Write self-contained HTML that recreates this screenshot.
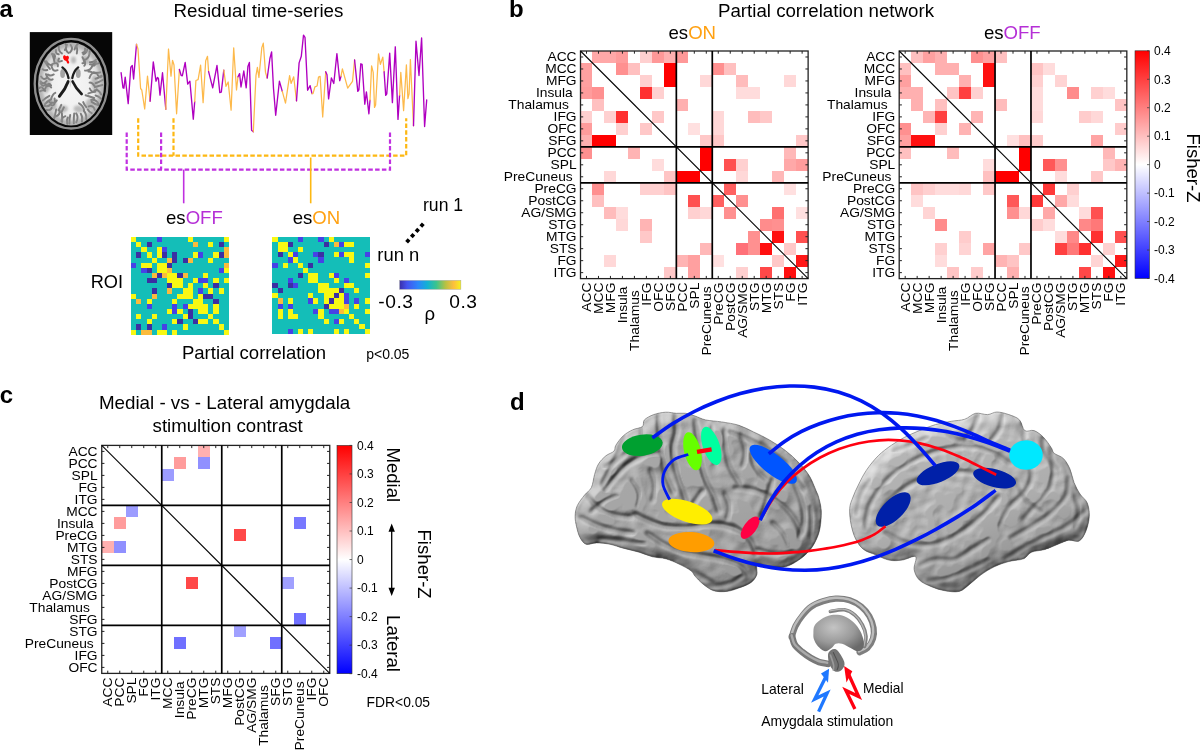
<!DOCTYPE html>
<html lang="en"><head><meta charset="utf-8"><title>Figure</title>
<style>html,body{margin:0;padding:0;background:#fff;}body{width:1200px;height:752px;overflow:hidden;font-family:"Liberation Sans", Arial, sans-serif;}svg{display:block;font-family:"Liberation Sans", Arial, sans-serif;}text{white-space:pre;}</style></head><body>
<svg width="1200" height="752" viewBox="0 0 1200 752">
<defs>
<linearGradient id="parula" x1="0" x2="1" y1="0" y2="0">
<stop offset="0" stop-color="#3a2fa8"/><stop offset="0.12" stop-color="#4453ee"/><stop offset="0.3" stop-color="#2c86fb"/><stop offset="0.45" stop-color="#12b1d4"/><stop offset="0.6" stop-color="#3bc48d"/><stop offset="0.75" stop-color="#b8c143"/><stop offset="0.88" stop-color="#fdbe3d"/><stop offset="1" stop-color="#f6f31b"/>
</linearGradient>
<linearGradient id="bwr" x1="0" x2="0" y1="0" y2="1">
<stop offset="0" stop-color="#ff0000"/><stop offset="0.5" stop-color="#ffffff"/><stop offset="1" stop-color="#0000ff"/>
</linearGradient>
</defs>

<rect width="1200" height="752" fill="#fff"/>
<g id="panel-a">
<text x="-0.5" y="17.3" font-size="24" text-anchor="start" font-weight="bold" fill="#000" >a</text>
<text x="258.5" y="16.5" font-size="18.75" text-anchor="middle" font-weight="normal" fill="#000" >Residual time-series</text>
<g id="mri">
<defs><filter id="mb1" x="-20%" y="-20%" width="140%" height="140%"><feGaussianBlur stdDeviation="0.6"/></filter><filter id="mb2" x="-20%" y="-20%" width="140%" height="140%"><feGaussianBlur stdDeviation="1.3"/></filter>
<radialGradient id="mg" cx="0.5" cy="0.5" r="0.5"><stop offset="0" stop-color="#f6f6f6"/><stop offset="0.7" stop-color="#efefef"/><stop offset="0.92" stop-color="#d6d6d6"/><stop offset="1" stop-color="#b0b0b0"/></radialGradient>
<clipPath id="mclip"><rect x="29.8" y="32.1" width="82.4" height="102.9"/></clipPath></defs>
<rect x="29.8" y="32.1" width="82.4" height="102.9" fill="#060606"/>
<g clip-path="url(#mclip)">
<ellipse cx="71.1" cy="83.7" rx="36.4" ry="44.8" fill="none" stroke="#8e8e8e" stroke-width="2.3" filter="url(#mb1)"/>
<ellipse cx="71.1" cy="84.0" rx="33" ry="41.4" fill="url(#mg)" filter="url(#mb1)"/>
<path d="M95.5,83.2 Q99.1,82.1 102.6,80.0 M94.9,87.2 Q98.7,85.7 102.4,85.0 M94.6,90.3 Q98.5,88.8 101.1,94.4 M95.6,95.5 Q98.6,96.1 101.0,98.7 M91.2,99.9 Q96.2,99.2 98.7,104.1 M91.5,101.8 Q94.4,104.2 98.2,105.0 M88.7,106.4 Q93.8,105.0 94.7,109.7 M87.8,109.4 Q89.2,111.9 91.6,113.2 M83.7,110.7 Q86.7,113.6 86.2,119.0 M80.8,113.7 Q83.0,116.9 81.9,121.6 M76.2,113.4 Q78.9,117.1 76.3,122.3 M74.2,113.4 Q73.6,118.4 73.8,123.3 M70.2,115.0 Q69.2,119.2 69.4,123.5 M67.7,117.4 Q66.1,120.4 67.2,123.8 M65.4,116.2 Q61.1,118.0 61.5,121.5 M61.9,113.3 Q62.2,117.6 62.2,121.8 M59.7,110.5 Q60.1,115.1 55.5,116.5 M56.2,109.4 Q55.4,113.9 54.2,117.9 M51.7,107.8 Q50.6,110.6 46.9,110.0 M51.3,103.1 Q49.5,107.3 44.3,105.8 M50.1,100.0 Q47.2,101.4 45.0,104.2 M49.4,95.8 Q45.9,97.5 42.9,100.4 M45.2,90.8 Q42.5,89.4 40.3,91.3 M44.2,89.7 Q41.5,86.0 39.4,88.0 M45.8,84.0 Q43.3,87.8 40.5,83.2 M46.6,81.0 Q43.5,85.3 40.5,81.4 M47.3,77.3 Q43.7,81.2 41.1,76.6 M47.3,70.0 Q44.6,70.9 42.7,69.2 M49.9,68.9 Q47.0,65.4 44.6,61.0 M52.0,65.3 Q48.2,65.0 46.3,61.3 M54.4,61.4 Q53.4,57.5 52.2,53.8 M54.6,58.6 Q56.2,53.7 51.9,54.1 M58.7,54.3 Q55.2,53.8 56.0,49.9 M61.9,53.4 Q58.4,51.2 58.8,46.8 M64.8,49.9 Q67.6,46.5 65.5,44.1 M68.5,52.9 Q64.2,49.6 66.9,44.7 M69.9,52.5 Q73.7,48.9 70.7,45.0 M74.5,49.5 Q75.0,46.5 77.8,44.0 M76.8,53.6 Q77.7,49.9 76.6,45.8 M82.5,52.8 Q85.8,52.0 85.0,48.5 M83.3,54.4 Q87.0,52.9 87.4,48.9 M86.0,59.3 Q89.7,57.1 89.7,51.2 M89.8,62.3 Q93.8,62.6 95.8,59.8 M89.9,64.4 Q94.2,65.2 96.1,61.5 M94.0,65.7 Q95.8,63.1 99.0,63.2 M93.6,72.2 Q97.2,73.4 100.1,72.3 M97.6,74.9 Q100.2,78.7 101.7,76.2 M95.5,78.8 Q98.6,78.1 101.4,75.7 M89.6,82.6 Q92.1,82.3 94.6,86.1 M89.8,88.5 Q92.0,94.4 96.8,89.4 M88.4,93.4 Q91.9,92.2 95.1,91.9 M85.6,95.2 Q89.9,96.6 94.2,98.0 M83.2,102.1 Q84.3,105.1 86.3,107.2 M79.0,103.3 Q83.3,105.5 84.1,110.4 M63.9,107.3 Q62.7,109.7 61.5,112.1 M61.3,104.8 Q60.1,107.7 58.5,110.2 M56.8,100.3 Q55.2,104.0 49.8,102.3 M54.6,98.4 Q56.0,105.6 51.9,105.4 M55.3,92.8 Q52.2,94.2 50.9,99.8 M51.2,87.5 Q49.3,84.8 47.6,86.2 M51.1,85.5 Q48.0,80.8 45.1,89.0 M52.7,79.3 Q48.6,81.4 45.9,74.1 M53.8,74.4 Q50.3,76.5 48.0,74.5 M57.6,70.2 Q52.0,72.6 51.3,64.7 M57.8,66.3 Q58.6,61.0 51.6,64.5 M62.0,60.9 Q56.6,63.1 59.0,58.5 M82.4,63.2 Q86.0,63.6 82.5,57.2 M84.3,65.8 Q86.0,64.3 84.4,59.6 M85.0,70.6 Q90.5,71.1 92.7,65.1 M88.6,71.6 Q90.4,71.5 92.7,72.7 M89.5,78.0 Q91.4,71.2 96.0,73.5" stroke="#6c6c6c" stroke-width="1.95" stroke-linecap="round" fill="none" opacity="0.85" filter="url(#mb1)"/>
<ellipse cx="47" cy="84" rx="3.5" ry="9" transform="rotate(6 47 84)" fill="#868686" opacity="0.5" filter="url(#mb2)"/>
<ellipse cx="95" cy="84" rx="3.5" ry="9" transform="rotate(-6 95 84)" fill="#868686" opacity="0.5" filter="url(#mb2)"/>
<ellipse cx="52" cy="104" rx="4.5" ry="6.5" transform="rotate(-25 52 104)" fill="#868686" opacity="0.5" filter="url(#mb2)"/>
<ellipse cx="90" cy="104" rx="4.5" ry="6.5" transform="rotate(25 90 104)" fill="#868686" opacity="0.5" filter="url(#mb2)"/>
<ellipse cx="63" cy="109" rx="5" ry="3.5" transform="rotate(-10 63 109)" fill="#868686" opacity="0.5" filter="url(#mb2)"/>
<ellipse cx="78.5" cy="109" rx="5" ry="3.5" transform="rotate(10 78.5 109)" fill="#868686" opacity="0.5" filter="url(#mb2)"/>
<ellipse cx="86" cy="60" rx="3" ry="5" transform="rotate(-30 86 60)" fill="#868686" opacity="0.5" filter="url(#mb2)"/>
<ellipse cx="56" cy="62" rx="3" ry="5" transform="rotate(30 56 62)" fill="#868686" opacity="0.5" filter="url(#mb2)"/>
<ellipse cx="73.5" cy="60" rx="2.6" ry="3.6" transform="rotate(0 73.5 60)" fill="#868686" opacity="0.5" filter="url(#mb2)"/>
<ellipse cx="71.1" cy="84.0" rx="30.6" ry="38.6" fill="none" stroke="#9c9c9c" stroke-width="3.2" opacity="0.55" filter="url(#mb2)"/>
<ellipse cx="62.6" cy="73.5" rx="2.4" ry="4.6" fill="#8a8a8a" opacity="0.75" filter="url(#mb1)"/>
<ellipse cx="78.3" cy="73.5" rx="2.4" ry="4.6" fill="#8a8a8a" opacity="0.75" filter="url(#mb1)"/>
<path d="M70.4,42.5 V66 M70.4,97 V124.5" stroke="#4a4a4a" stroke-width="0.9" fill="none" filter="url(#mb1)"/>
<g fill="none" stroke="#1c1c1c" stroke-linecap="round" filter="url(#mb1)">
<path d="M62.4,67.4 Q67.2,71 68.5,78" stroke-width="2.3"/><path d="M78.2,67.4 Q73.6,71 72.3,78" stroke-width="2.3"/>
<path d="M68.2,81.5 Q65.5,89 59.4,96.3" stroke-width="2.9"/><path d="M72.6,81.5 Q75.5,88 81.6,94" stroke-width="2.7"/>
</g>
<path d="M70.4,76.5 C69.5,80 69.5,84 70.4,88 C71.3,84 71.3,80 70.4,76.5Z" fill="#d8d8d8"/>
<path d="M63.3,56 C64.2,54.6 65.6,55.4 66,56.6 C66.8,55.2 68.6,55.6 68.9,57.2 C69.2,58.6 67.8,59.4 68.3,60.4 C69.2,61.2 69.6,62.4 68.8,63.4 C67.8,64 66.8,63.2 66.8,62 C66.4,60.8 65,60.8 64.2,60 C63.2,59 62.8,57.2 63.3,56 Z" fill="#ff0a0a"/>
</g></g>
<polyline fill="none" stroke="#b000c0" stroke-width="1.35" stroke-linejoin="round" stroke-linecap="round" points="121.1,72.7 123.0,87.8 123.9,88.2 125.2,77.1 128.2,103.6 130.8,67.3 132.3,65.5 133.6,79.0 136.5,44.3"/>
<polyline fill="none" stroke="#fdb94a" stroke-width="1.25" stroke-linejoin="round" stroke-linecap="round" points="136.5,44.3 138,49 140.6,88.5 141.8,90 144.7,109 147.5,76.1 150.1,101.2"/>
<polyline fill="none" stroke="#b000c0" stroke-width="1.35" stroke-linejoin="round" stroke-linecap="round" points="150.1,101.2 153.3,61.9 156,81.2 157.4,77.5 158.4,78.3 160,95.1 162.5,72.7 165.8,109.3"/>
<polyline fill="none" stroke="#fdb94a" stroke-width="1.25" stroke-linejoin="round" stroke-linecap="round" points="165.8,109.3 168.5,49 171,76.1 172.5,60.3 174,65 176.6,113.8 179.4,69.5"/>
<polyline fill="none" stroke="#b000c0" stroke-width="1.35" stroke-linejoin="round" stroke-linecap="round" points="179.4,69.5 181.1,75.3 182.3,75.8 185.2,62.5 187.7,84.1 189.9,81.2 193.3,119.2 194.7,101.7"/>
<polyline fill="none" stroke="#fdb94a" stroke-width="1.25" stroke-linejoin="round" stroke-linecap="round" points="194.7,101.7 195.9,80.5 198.1,79.7 200.6,65.1 203.1,102.7 205.7,60.7 207.5,56.3 208.6,71.7"/>
<polyline fill="none" stroke="#b000c0" stroke-width="1.35" stroke-linejoin="round" stroke-linecap="round" points="208.6,71.7 212.7,87.8 217,65.5 219.8,92.6 221.3,92.2 223.8,70.2"/>
<polyline fill="none" stroke="#fdb94a" stroke-width="1.25" stroke-linejoin="round" stroke-linecap="round" points="223.8,70.2 226,86.3 228.2,82 231.1,110.2 233.7,47.8 236.5,90 238,76.8"/>
<polyline fill="none" stroke="#b000c0" stroke-width="1.35" stroke-linejoin="round" stroke-linecap="round" points="238,76.8 239.6,73.6 241,87 243.8,71 246.2,87.8 247.9,66.6 249.4,62.5 251.6,130.2 253.3,131.7"/>
<polyline fill="none" stroke="#fdb94a" stroke-width="1.25" stroke-linejoin="round" stroke-linecap="round" points="253.3,131.7 256,75.3 257.4,67.3 258.9,77.5 261.8,47.6 263.3,43.2 265.5,72.4 267.2,78"/>
<polyline fill="none" stroke="#b000c0" stroke-width="1.35" stroke-linejoin="round" stroke-linecap="round" points="267.2,78 269.9,58.5 271.6,51.9 273.5,88.5 275.7,115.3 279.4,81.2 282.3,91.4"/>
<polyline fill="none" stroke="#fdb94a" stroke-width="1.25" stroke-linejoin="round" stroke-linecap="round" points="282.3,91.4 285.5,103.1 289.6,75.6 291.1,83.4 293.7,76.8 296.5,100.9"/>
<polyline fill="none" stroke="#b000c0" stroke-width="1.35" stroke-linejoin="round" stroke-linecap="round" points="296.5,100.9 299.1,62.9 301.3,56.3 303.5,35.1 305,37.3 307.6,90.3 310.1,85.6 312,93.6"/>
<polyline fill="none" stroke="#fdb94a" stroke-width="1.25" stroke-linejoin="round" stroke-linecap="round" points="312,93.6 313,93.6 314.9,86.8 317.1,86 318.5,77.1 320.1,76.3 322.7,117 325.7,71.8"/>
<polyline fill="none" stroke="#b000c0" stroke-width="1.35" stroke-linejoin="round" stroke-linecap="round" points="325.7,71.8 327,74.7 328.6,98.9 331.4,77.9 333.8,83.5 336.9,53.6 339.7,80.7 341,76.3"/>
<polyline fill="none" stroke="#fdb94a" stroke-width="1.25" stroke-linejoin="round" stroke-linecap="round" points="341,76.3 342.4,68.8 347.7,88.2 352.5,81.4 354.6,60"/>
<polyline fill="none" stroke="#b000c0" stroke-width="1.35" stroke-linejoin="round" stroke-linecap="round" points="354.6,60 357.8,91.4 358.9,89.8 360.8,63.8 362.1,64.3 364.8,104.2 366.4,91.9 368.9,113.8 370,100.2"/>
<polyline fill="none" stroke="#fdb94a" stroke-width="1.25" stroke-linejoin="round" stroke-linecap="round" points="370,100.2 371.6,65.9 373.2,72.3 374.5,107.4 375.6,105 378.5,53.9 380.4,64.3 382.8,57.1 384.1,71.8"/>
<polyline fill="none" stroke="#b000c0" stroke-width="1.35" stroke-linejoin="round" stroke-linecap="round" points="384.1,71.8 385.7,95.4 386.8,93.8 389.7,53.1 392.4,102.6 395.3,46.8 398,119.4 399.6,95.1"/>
<polyline fill="none" stroke="#fdb94a" stroke-width="1.25" stroke-linejoin="round" stroke-linecap="round" points="399.6,95.1 400.8,72.3 403.6,110.6 406.4,64.8 407.9,98.6 409.1,93.8 410.4,59.5 413.5,125.7"/>
<polyline fill="none" stroke="#b000c0" stroke-width="1.35" stroke-linejoin="round" stroke-linecap="round" points="413.5,125.7 416,41.2 419,75.5 421.6,38 424.6,126.5 426.7,99.9"/>
<path d="M138.2,118.2 V155.7 H406.2 V118.2 M173.5,118.2 V155.7" fill="none" stroke="#fdb813" stroke-width="2.2" stroke-dasharray="4.5,2.3"/>
<path d="M126.7,132.4 V169.6 H390 V132.4 M161.1,132.4 V169.6" fill="none" stroke="#c030e0" stroke-width="2.2" stroke-dasharray="4.5,2.3"/>
<path d="M183.7,169.6 V203.3" stroke="#c030e0" stroke-width="1.6" fill="none"/>
<path d="M310.7,157.5 V203.3" stroke="#fdb813" stroke-width="1.6" fill="none"/>
<text x="166" y="224.3" font-size="18.6">es<tspan fill="#b52fd6">OFF</tspan></text>
<text x="292.7" y="224.3" font-size="18.6">es<tspan fill="#ffa010">ON</tspan></text>
<g shape-rendering="crispEdges">
<rect x="131.2" y="237" width="97.7" height="97.7" fill="#14beb8"/>
<rect x="131.20" y="237.00" width="5.14" height="5.14" fill="#f8f813"/>
<rect x="156.91" y="237.00" width="5.14" height="5.14" fill="#4642e6"/>
<rect x="187.76" y="237.00" width="5.14" height="5.14" fill="#f8f813"/>
<rect x="223.76" y="237.00" width="5.14" height="5.14" fill="#f8f813"/>
<rect x="136.34" y="242.14" width="5.14" height="5.14" fill="#f8f813"/>
<rect x="146.63" y="242.14" width="5.14" height="5.14" fill="#3b2fa3"/>
<rect x="192.91" y="242.14" width="5.14" height="5.14" fill="#fbbb3c"/>
<rect x="208.33" y="242.14" width="5.14" height="5.14" fill="#f8f813"/>
<rect x="218.62" y="242.14" width="5.14" height="5.14" fill="#3b2fa3"/>
<rect x="141.48" y="247.28" width="5.14" height="5.14" fill="#f8f813"/>
<rect x="156.91" y="247.28" width="5.14" height="5.14" fill="#f8f813"/>
<rect x="162.05" y="247.28" width="5.14" height="5.14" fill="#4642e6"/>
<rect x="223.76" y="247.28" width="5.14" height="5.14" fill="#fbbb3c"/>
<rect x="136.34" y="252.43" width="5.14" height="5.14" fill="#3b2fa3"/>
<rect x="146.63" y="252.43" width="5.14" height="5.14" fill="#f8f813"/>
<rect x="156.91" y="252.43" width="5.14" height="5.14" fill="#f8f813"/>
<rect x="162.05" y="252.43" width="5.14" height="5.14" fill="#3b2fa3"/>
<rect x="172.34" y="252.43" width="5.14" height="5.14" fill="#3b2fa3"/>
<rect x="192.91" y="252.43" width="5.14" height="5.14" fill="#f8f813"/>
<rect x="198.05" y="252.43" width="5.14" height="5.14" fill="#4642e6"/>
<rect x="213.47" y="252.43" width="5.14" height="5.14" fill="#f8f813"/>
<rect x="218.62" y="252.43" width="5.14" height="5.14" fill="#3b2fa3"/>
<rect x="223.76" y="252.43" width="5.14" height="5.14" fill="#fbbb3c"/>
<rect x="151.77" y="257.57" width="5.14" height="5.14" fill="#f8f813"/>
<rect x="167.19" y="257.57" width="5.14" height="5.14" fill="#fbbb3c"/>
<rect x="172.34" y="257.57" width="5.14" height="5.14" fill="#3b2fa3"/>
<rect x="182.62" y="257.57" width="5.14" height="5.14" fill="#3b2fa3"/>
<rect x="187.76" y="257.57" width="5.14" height="5.14" fill="#fbbb3c"/>
<rect x="208.33" y="257.57" width="5.14" height="5.14" fill="#f8f813"/>
<rect x="131.20" y="262.71" width="5.14" height="5.14" fill="#4642e6"/>
<rect x="141.48" y="262.71" width="10.28" height="5.14" fill="#f8f813"/>
<rect x="156.91" y="262.71" width="10.28" height="5.14" fill="#f8f813"/>
<rect x="167.19" y="262.71" width="5.14" height="5.14" fill="#3b2fa3"/>
<rect x="223.76" y="262.71" width="5.14" height="5.14" fill="#fbbb3c"/>
<rect x="141.48" y="267.85" width="5.14" height="5.14" fill="#4642e6"/>
<rect x="146.63" y="267.85" width="5.14" height="5.14" fill="#3b2fa3"/>
<rect x="156.91" y="267.85" width="10.28" height="5.14" fill="#f8f813"/>
<rect x="167.19" y="267.85" width="5.14" height="5.14" fill="#fbbb3c"/>
<rect x="218.62" y="267.85" width="5.14" height="5.14" fill="#4642e6"/>
<rect x="223.76" y="267.85" width="5.14" height="5.14" fill="#f8f813"/>
<rect x="151.77" y="272.99" width="5.14" height="5.14" fill="#fbbb3c"/>
<rect x="156.91" y="272.99" width="5.14" height="5.14" fill="#3b2fa3"/>
<rect x="162.05" y="272.99" width="5.14" height="5.14" fill="#fbbb3c"/>
<rect x="167.19" y="272.99" width="10.28" height="5.14" fill="#f8f813"/>
<rect x="177.48" y="272.99" width="5.14" height="5.14" fill="#3b2fa3"/>
<rect x="182.62" y="272.99" width="5.14" height="5.14" fill="#fbbb3c"/>
<rect x="203.19" y="272.99" width="5.14" height="5.14" fill="#f8f813"/>
<rect x="146.63" y="278.14" width="10.28" height="5.14" fill="#3b2fa3"/>
<rect x="167.19" y="278.14" width="15.43" height="5.14" fill="#f8f813"/>
<rect x="192.91" y="278.14" width="5.14" height="5.14" fill="#f8f813"/>
<rect x="198.05" y="278.14" width="10.28" height="5.14" fill="#4642e6"/>
<rect x="213.47" y="278.14" width="5.14" height="5.14" fill="#f8f813"/>
<rect x="223.76" y="278.14" width="5.14" height="5.14" fill="#f8f813"/>
<rect x="167.19" y="283.28" width="5.14" height="5.14" fill="#3b2fa3"/>
<rect x="172.34" y="283.28" width="10.28" height="5.14" fill="#f8f813"/>
<rect x="187.76" y="283.28" width="5.14" height="5.14" fill="#f8f813"/>
<rect x="203.19" y="283.28" width="5.14" height="5.14" fill="#f8f813"/>
<rect x="213.47" y="283.28" width="5.14" height="5.14" fill="#3b2fa3"/>
<rect x="151.77" y="288.42" width="5.14" height="5.14" fill="#3b2fa3"/>
<rect x="167.19" y="288.42" width="5.14" height="5.14" fill="#fbbb3c"/>
<rect x="182.62" y="288.42" width="10.28" height="5.14" fill="#f8f813"/>
<rect x="198.05" y="288.42" width="5.14" height="5.14" fill="#4642e6"/>
<rect x="208.33" y="288.42" width="5.14" height="5.14" fill="#f8f813"/>
<rect x="218.62" y="288.42" width="5.14" height="5.14" fill="#f8f813"/>
<rect x="131.20" y="293.56" width="5.14" height="5.14" fill="#f8f813"/>
<rect x="151.77" y="293.56" width="5.14" height="5.14" fill="#fbbb3c"/>
<rect x="177.48" y="293.56" width="15.43" height="5.14" fill="#f8f813"/>
<rect x="198.05" y="293.56" width="5.14" height="5.14" fill="#f8f813"/>
<rect x="203.19" y="293.56" width="10.28" height="5.14" fill="#3b2fa3"/>
<rect x="136.34" y="298.71" width="5.14" height="5.14" fill="#fbbb3c"/>
<rect x="146.63" y="298.71" width="5.14" height="5.14" fill="#f8f813"/>
<rect x="172.34" y="298.71" width="5.14" height="5.14" fill="#f8f813"/>
<rect x="192.91" y="298.71" width="10.28" height="5.14" fill="#f8f813"/>
<rect x="213.47" y="298.71" width="5.14" height="5.14" fill="#3b2fa3"/>
<rect x="146.63" y="303.85" width="5.14" height="5.14" fill="#4642e6"/>
<rect x="172.34" y="303.85" width="5.14" height="5.14" fill="#4642e6"/>
<rect x="182.62" y="303.85" width="5.14" height="5.14" fill="#4642e6"/>
<rect x="187.76" y="303.85" width="20.57" height="5.14" fill="#f8f813"/>
<rect x="213.47" y="303.85" width="5.14" height="5.14" fill="#f8f813"/>
<rect x="167.19" y="308.99" width="5.14" height="5.14" fill="#f8f813"/>
<rect x="172.34" y="308.99" width="5.14" height="5.14" fill="#4642e6"/>
<rect x="177.48" y="308.99" width="5.14" height="5.14" fill="#f8f813"/>
<rect x="187.76" y="308.99" width="5.14" height="5.14" fill="#3b2fa3"/>
<rect x="198.05" y="308.99" width="10.28" height="5.14" fill="#f8f813"/>
<rect x="213.47" y="308.99" width="5.14" height="5.14" fill="#f8f813"/>
<rect x="136.34" y="314.13" width="5.14" height="5.14" fill="#f8f813"/>
<rect x="151.77" y="314.13" width="5.14" height="5.14" fill="#f8f813"/>
<rect x="182.62" y="314.13" width="5.14" height="5.14" fill="#f8f813"/>
<rect x="187.76" y="314.13" width="5.14" height="5.14" fill="#3b2fa3"/>
<rect x="208.33" y="314.13" width="5.14" height="5.14" fill="#f8f813"/>
<rect x="146.63" y="319.27" width="5.14" height="5.14" fill="#f8f813"/>
<rect x="172.34" y="319.27" width="5.14" height="5.14" fill="#f8f813"/>
<rect x="177.48" y="319.27" width="5.14" height="5.14" fill="#3b2fa3"/>
<rect x="192.91" y="319.27" width="5.14" height="5.14" fill="#3b2fa3"/>
<rect x="198.05" y="319.27" width="10.28" height="5.14" fill="#f8f813"/>
<rect x="213.47" y="319.27" width="5.14" height="5.14" fill="#f8f813"/>
<rect x="136.34" y="324.42" width="5.14" height="5.14" fill="#3b2fa3"/>
<rect x="146.63" y="324.42" width="5.14" height="5.14" fill="#3b2fa3"/>
<rect x="162.05" y="324.42" width="5.14" height="5.14" fill="#4642e6"/>
<rect x="182.62" y="324.42" width="5.14" height="5.14" fill="#f8f813"/>
<rect x="218.62" y="324.42" width="5.14" height="5.14" fill="#f8f813"/>
<rect x="131.20" y="329.56" width="5.14" height="5.14" fill="#f8f813"/>
<rect x="141.48" y="329.56" width="10.28" height="5.14" fill="#fbbb3c"/>
<rect x="156.91" y="329.56" width="10.28" height="5.14" fill="#f8f813"/>
<rect x="172.34" y="329.56" width="5.14" height="5.14" fill="#f8f813"/>
<rect x="223.76" y="329.56" width="5.14" height="5.14" fill="#f8f813"/>
<rect x="272.4" y="237" width="97.3" height="97.3" fill="#14beb8"/>
<rect x="272.40" y="237.00" width="5.12" height="5.12" fill="#f8f813"/>
<rect x="298.01" y="237.00" width="5.12" height="5.12" fill="#4642e6"/>
<rect x="318.49" y="237.00" width="5.12" height="5.12" fill="#4642e6"/>
<rect x="328.73" y="237.00" width="5.12" height="5.12" fill="#f8f813"/>
<rect x="277.52" y="242.12" width="10.24" height="5.12" fill="#f8f813"/>
<rect x="287.76" y="242.12" width="5.12" height="5.12" fill="#3b2fa3"/>
<rect x="323.61" y="242.12" width="5.12" height="5.12" fill="#3b2fa3"/>
<rect x="333.85" y="242.12" width="5.12" height="5.12" fill="#fbbb3c"/>
<rect x="338.97" y="242.12" width="5.12" height="5.12" fill="#4642e6"/>
<rect x="344.09" y="242.12" width="10.24" height="5.12" fill="#f8f813"/>
<rect x="277.52" y="247.24" width="10.24" height="5.12" fill="#f8f813"/>
<rect x="298.01" y="247.24" width="5.12" height="5.12" fill="#f8f813"/>
<rect x="277.52" y="252.36" width="5.12" height="5.12" fill="#3b2fa3"/>
<rect x="287.76" y="252.36" width="5.12" height="5.12" fill="#f8f813"/>
<rect x="292.88" y="252.36" width="5.12" height="5.12" fill="#4642e6"/>
<rect x="313.37" y="252.36" width="5.12" height="5.12" fill="#4642e6"/>
<rect x="318.49" y="252.36" width="5.12" height="5.12" fill="#3b2fa3"/>
<rect x="333.85" y="252.36" width="5.12" height="5.12" fill="#f8f813"/>
<rect x="338.97" y="252.36" width="5.12" height="5.12" fill="#4642e6"/>
<rect x="344.09" y="252.36" width="10.24" height="5.12" fill="#f8f813"/>
<rect x="364.58" y="252.36" width="5.12" height="5.12" fill="#4642e6"/>
<rect x="287.76" y="257.48" width="5.12" height="5.12" fill="#4642e6"/>
<rect x="292.88" y="257.48" width="5.12" height="5.12" fill="#f8f813"/>
<rect x="318.49" y="257.48" width="5.12" height="5.12" fill="#4642e6"/>
<rect x="349.22" y="257.48" width="5.12" height="5.12" fill="#f8f813"/>
<rect x="272.40" y="262.61" width="5.12" height="5.12" fill="#4642e6"/>
<rect x="282.64" y="262.61" width="5.12" height="5.12" fill="#f8f813"/>
<rect x="298.01" y="262.61" width="5.12" height="5.12" fill="#f8f813"/>
<rect x="308.25" y="262.61" width="5.12" height="5.12" fill="#3b2fa3"/>
<rect x="364.58" y="262.61" width="5.12" height="5.12" fill="#f8f813"/>
<rect x="303.13" y="267.73" width="5.12" height="5.12" fill="#f8f813"/>
<rect x="298.01" y="272.85" width="5.12" height="5.12" fill="#3b2fa3"/>
<rect x="308.25" y="272.85" width="10.24" height="5.12" fill="#f8f813"/>
<rect x="328.73" y="272.85" width="5.12" height="5.12" fill="#f8f813"/>
<rect x="333.85" y="272.85" width="5.12" height="5.12" fill="#4642e6"/>
<rect x="364.58" y="272.85" width="5.12" height="5.12" fill="#f8f813"/>
<rect x="287.76" y="277.97" width="5.12" height="5.12" fill="#4642e6"/>
<rect x="308.25" y="277.97" width="10.24" height="5.12" fill="#f8f813"/>
<rect x="333.85" y="277.97" width="5.12" height="5.12" fill="#f8f813"/>
<rect x="344.09" y="277.97" width="5.12" height="5.12" fill="#4642e6"/>
<rect x="272.40" y="283.09" width="5.12" height="5.12" fill="#3b2fa3"/>
<rect x="287.76" y="283.09" width="5.12" height="5.12" fill="#3b2fa3"/>
<rect x="292.88" y="283.09" width="5.12" height="5.12" fill="#4642e6"/>
<rect x="318.49" y="283.09" width="10.24" height="5.12" fill="#f8f813"/>
<rect x="344.09" y="283.09" width="10.24" height="5.12" fill="#f8f813"/>
<rect x="277.52" y="288.21" width="5.12" height="5.12" fill="#3b2fa3"/>
<rect x="318.49" y="288.21" width="20.48" height="5.12" fill="#f8f813"/>
<rect x="338.97" y="288.21" width="5.12" height="5.12" fill="#3b2fa3"/>
<rect x="354.34" y="288.21" width="5.12" height="5.12" fill="#f8f813"/>
<rect x="272.40" y="293.33" width="5.12" height="5.12" fill="#f8f813"/>
<rect x="308.25" y="293.33" width="5.12" height="5.12" fill="#f8f813"/>
<rect x="323.61" y="293.33" width="10.24" height="5.12" fill="#f8f813"/>
<rect x="333.85" y="293.33" width="5.12" height="5.12" fill="#3b2fa3"/>
<rect x="338.97" y="293.33" width="5.12" height="5.12" fill="#f8f813"/>
<rect x="344.09" y="293.33" width="5.12" height="5.12" fill="#4642e6"/>
<rect x="277.52" y="298.45" width="5.12" height="5.12" fill="#fbbb3c"/>
<rect x="287.76" y="298.45" width="5.12" height="5.12" fill="#f8f813"/>
<rect x="308.25" y="298.45" width="5.12" height="5.12" fill="#4642e6"/>
<rect x="313.37" y="298.45" width="5.12" height="5.12" fill="#f8f813"/>
<rect x="323.61" y="298.45" width="5.12" height="5.12" fill="#f8f813"/>
<rect x="328.73" y="298.45" width="5.12" height="5.12" fill="#3b2fa3"/>
<rect x="333.85" y="298.45" width="10.24" height="5.12" fill="#f8f813"/>
<rect x="344.09" y="298.45" width="5.12" height="5.12" fill="#4642e6"/>
<rect x="354.34" y="298.45" width="5.12" height="5.12" fill="#4642e6"/>
<rect x="364.58" y="298.45" width="5.12" height="5.12" fill="#f8f813"/>
<rect x="277.52" y="303.57" width="5.12" height="5.12" fill="#4642e6"/>
<rect x="287.76" y="303.57" width="5.12" height="5.12" fill="#4642e6"/>
<rect x="323.61" y="303.57" width="5.12" height="5.12" fill="#3b2fa3"/>
<rect x="328.73" y="303.57" width="15.36" height="5.12" fill="#f8f813"/>
<rect x="344.09" y="303.57" width="5.12" height="5.12" fill="#fbbb3c"/>
<rect x="354.34" y="303.57" width="5.12" height="5.12" fill="#f8f813"/>
<rect x="277.52" y="308.69" width="5.12" height="5.12" fill="#f8f813"/>
<rect x="287.76" y="308.69" width="5.12" height="5.12" fill="#f8f813"/>
<rect x="313.37" y="308.69" width="5.12" height="5.12" fill="#4642e6"/>
<rect x="318.49" y="308.69" width="5.12" height="5.12" fill="#f8f813"/>
<rect x="328.73" y="308.69" width="10.24" height="5.12" fill="#4642e6"/>
<rect x="338.97" y="308.69" width="5.12" height="5.12" fill="#fbbb3c"/>
<rect x="344.09" y="308.69" width="5.12" height="5.12" fill="#f8f813"/>
<rect x="364.58" y="308.69" width="5.12" height="5.12" fill="#f8f813"/>
<rect x="277.52" y="313.82" width="5.12" height="5.12" fill="#f8f813"/>
<rect x="287.76" y="313.82" width="10.24" height="5.12" fill="#f8f813"/>
<rect x="318.49" y="313.82" width="5.12" height="5.12" fill="#f8f813"/>
<rect x="349.22" y="313.82" width="5.12" height="5.12" fill="#f8f813"/>
<rect x="323.61" y="318.94" width="5.12" height="5.12" fill="#f8f813"/>
<rect x="333.85" y="318.94" width="5.12" height="5.12" fill="#4642e6"/>
<rect x="338.97" y="318.94" width="5.12" height="5.12" fill="#f8f813"/>
<rect x="354.34" y="318.94" width="5.12" height="5.12" fill="#f8f813"/>
<rect x="359.46" y="324.06" width="5.12" height="5.12" fill="#f8f813"/>
<rect x="287.76" y="329.18" width="5.12" height="5.12" fill="#4642e6"/>
<rect x="298.01" y="329.18" width="5.12" height="5.12" fill="#f8f813"/>
<rect x="308.25" y="329.18" width="5.12" height="5.12" fill="#f8f813"/>
<rect x="333.85" y="329.18" width="5.12" height="5.12" fill="#f8f813"/>
<rect x="344.09" y="329.18" width="5.12" height="5.12" fill="#f8f813"/>
<rect x="364.58" y="329.18" width="5.12" height="5.12" fill="#f8f813"/>
</g>
<text x="90.7" y="288.2" font-size="18.2" text-anchor="start" font-weight="normal" fill="#000" >ROI</text>
<text x="254" y="358.8" font-size="18.55" text-anchor="middle" font-weight="normal" fill="#000" >Partial correlation</text>
<text x="366.2" y="358.7" font-size="14" text-anchor="start" font-weight="normal" fill="#000" >p&lt;0.05</text>
<text x="423" y="211.2" font-size="17.6" text-anchor="start" font-weight="normal" fill="#000" >run 1</text>
<text x="377.3" y="261.2" font-size="18.4" text-anchor="start" font-weight="normal" fill="#000" >run n</text>
<path d="M406.6,242.2 L425.6,221.3" stroke="#000" stroke-width="3.8" stroke-dasharray="3.7,3.35" fill="none"/>
<rect x="399.6" y="280.4" width="61.3" height="8.9" fill="url(#parula)" stroke="#999" stroke-width="0.4"/>
<text x="378.3" y="308.4" font-size="19.2" text-anchor="start" font-weight="normal" fill="#000" letter-spacing="0.55">-0.3</text>
<text x="449.2" y="308.4" font-size="19.2" text-anchor="start" font-weight="normal" fill="#000" letter-spacing="0.55">0.3</text>
<text x="424.4" y="320" font-size="18.6" text-anchor="start" font-weight="normal" fill="#000" >ρ</text>
</g>
<g id="panel-b">
<text x="509" y="17.2" font-size="24" text-anchor="start" font-weight="bold" fill="#000" >b</text>
<text x="826" y="16.5" font-size="18.7" text-anchor="middle" font-weight="normal" fill="#000" >Partial correlation network</text>
<text x="668.5" y="39" font-size="18.6">es<tspan fill="#ffa010">ON</tspan></text>
<text x="983.9" y="39" font-size="18.6">es<tspan fill="#b52fd6">OFF</tspan></text>
<g shape-rendering="crispEdges">
<rect x="592.48" y="51.00" width="11.98" height="11.98" fill="#ffa8a8"/>
<rect x="604.46" y="51.00" width="11.98" height="11.98" fill="#ffa8a8"/>
<rect x="616.44" y="51.00" width="11.98" height="11.98" fill="#ff9c9c"/>
<rect x="640.40" y="51.00" width="11.98" height="11.98" fill="#ffd0d0"/>
<rect x="652.38" y="51.00" width="11.98" height="11.98" fill="#ff9898"/>
<rect x="664.36" y="51.00" width="11.98" height="11.98" fill="#ffb0b0"/>
<rect x="676.34" y="51.00" width="11.98" height="11.98" fill="#ff9898"/>
<rect x="580.50" y="62.98" width="11.98" height="11.98" fill="#ffa0a0"/>
<rect x="616.44" y="62.98" width="11.98" height="11.98" fill="#ff9090"/>
<rect x="628.42" y="62.98" width="11.98" height="11.98" fill="#ffc0c0"/>
<rect x="664.36" y="62.98" width="11.98" height="11.98" fill="#ff0000"/>
<rect x="712.28" y="62.98" width="11.98" height="11.98" fill="#ff9090"/>
<rect x="724.26" y="62.98" width="11.98" height="11.98" fill="#ffc0c0"/>
<rect x="580.50" y="74.96" width="11.98" height="11.98" fill="#ffa0a0"/>
<rect x="640.40" y="74.96" width="11.98" height="11.98" fill="#ffd0d0"/>
<rect x="664.36" y="74.96" width="11.98" height="11.98" fill="#ff0000"/>
<rect x="700.30" y="74.96" width="11.98" height="11.98" fill="#ffd8d8"/>
<rect x="736.24" y="74.96" width="11.98" height="11.98" fill="#ffbcbc"/>
<rect x="784.16" y="74.96" width="11.98" height="11.98" fill="#ffd8d8"/>
<rect x="580.50" y="86.94" width="11.98" height="11.98" fill="#ff9c9c"/>
<rect x="592.48" y="86.94" width="11.98" height="11.98" fill="#ff9090"/>
<rect x="640.40" y="86.94" width="11.98" height="11.98" fill="#ff3030"/>
<rect x="652.38" y="86.94" width="11.98" height="11.98" fill="#ffd0d0"/>
<rect x="736.24" y="86.94" width="11.98" height="11.98" fill="#ffdcdc"/>
<rect x="748.22" y="86.94" width="11.98" height="11.98" fill="#ffdcdc"/>
<rect x="592.48" y="98.92" width="11.98" height="11.98" fill="#ffc0c0"/>
<rect x="676.34" y="98.92" width="11.98" height="11.98" fill="#ffb0b0"/>
<rect x="580.50" y="110.90" width="11.98" height="11.98" fill="#ffd0d0"/>
<rect x="604.46" y="110.90" width="11.98" height="11.98" fill="#ffd0d0"/>
<rect x="616.44" y="110.90" width="11.98" height="11.98" fill="#ff3030"/>
<rect x="652.38" y="110.90" width="11.98" height="11.98" fill="#ffc8c8"/>
<rect x="712.28" y="110.90" width="11.98" height="11.98" fill="#ffd8d8"/>
<rect x="748.22" y="110.90" width="11.98" height="11.98" fill="#ffbcbc"/>
<rect x="760.20" y="110.90" width="11.98" height="11.98" fill="#ffc8c8"/>
<rect x="580.50" y="122.88" width="11.98" height="11.98" fill="#ff9c9c"/>
<rect x="616.44" y="122.88" width="11.98" height="11.98" fill="#ffd0d0"/>
<rect x="640.40" y="122.88" width="11.98" height="11.98" fill="#ffc8c8"/>
<rect x="688.32" y="122.88" width="11.98" height="11.98" fill="#ffe0e0"/>
<rect x="712.28" y="122.88" width="11.98" height="11.98" fill="#ffd8d8"/>
<rect x="580.50" y="134.86" width="11.98" height="11.98" fill="#ffb0b0"/>
<rect x="592.48" y="134.86" width="11.98" height="11.98" fill="#ff0000"/>
<rect x="604.46" y="134.86" width="11.98" height="11.98" fill="#ff0000"/>
<rect x="700.30" y="134.86" width="11.98" height="11.98" fill="#ffc8c8"/>
<rect x="712.28" y="134.86" width="11.98" height="11.98" fill="#ffc8c8"/>
<rect x="796.14" y="134.86" width="11.98" height="11.98" fill="#ffc8c8"/>
<rect x="580.50" y="146.84" width="11.98" height="11.98" fill="#ff9090"/>
<rect x="628.42" y="146.84" width="11.98" height="11.98" fill="#ffb4b4"/>
<rect x="700.30" y="146.84" width="11.98" height="11.98" fill="#ff0000"/>
<rect x="784.16" y="146.84" width="11.98" height="11.98" fill="#ffb8b8"/>
<rect x="652.38" y="158.82" width="11.98" height="11.98" fill="#ffdcdc"/>
<rect x="700.30" y="158.82" width="11.98" height="11.98" fill="#ff0000"/>
<rect x="724.26" y="158.82" width="11.98" height="11.98" fill="#ff5050"/>
<rect x="736.24" y="158.82" width="11.98" height="11.98" fill="#ffd0d0"/>
<rect x="784.16" y="158.82" width="11.98" height="11.98" fill="#ffa8a8"/>
<rect x="796.14" y="158.82" width="11.98" height="11.98" fill="#ff9c9c"/>
<rect x="604.46" y="170.80" width="11.98" height="11.98" fill="#ffd8d8"/>
<rect x="664.36" y="170.80" width="11.98" height="11.98" fill="#ffc4c4"/>
<rect x="676.34" y="170.80" width="11.98" height="11.98" fill="#ff0000"/>
<rect x="688.32" y="170.80" width="11.98" height="11.98" fill="#ff0000"/>
<rect x="736.24" y="170.80" width="11.98" height="11.98" fill="#ffd8d8"/>
<rect x="772.18" y="170.80" width="11.98" height="11.98" fill="#ffb8b8"/>
<rect x="592.48" y="182.78" width="11.98" height="11.98" fill="#ff9090"/>
<rect x="640.40" y="182.78" width="11.98" height="11.98" fill="#ffd0d0"/>
<rect x="652.38" y="182.78" width="11.98" height="11.98" fill="#ffd0d0"/>
<rect x="664.36" y="182.78" width="11.98" height="11.98" fill="#ffc4c4"/>
<rect x="724.26" y="182.78" width="11.98" height="11.98" fill="#ff6060"/>
<rect x="784.16" y="182.78" width="11.98" height="11.98" fill="#ffe0e0"/>
<rect x="592.48" y="194.76" width="11.98" height="11.98" fill="#ffc0c0"/>
<rect x="688.32" y="194.76" width="11.98" height="11.98" fill="#ff5050"/>
<rect x="712.28" y="194.76" width="11.98" height="11.98" fill="#ff6060"/>
<rect x="736.24" y="194.76" width="11.98" height="11.98" fill="#ff9090"/>
<rect x="604.46" y="206.74" width="11.98" height="11.98" fill="#ffbcbc"/>
<rect x="616.44" y="206.74" width="11.98" height="11.98" fill="#ffdcdc"/>
<rect x="688.32" y="206.74" width="11.98" height="11.98" fill="#ffd0d0"/>
<rect x="700.30" y="206.74" width="11.98" height="11.98" fill="#ffd8d8"/>
<rect x="724.26" y="206.74" width="11.98" height="11.98" fill="#ff9090"/>
<rect x="772.18" y="206.74" width="11.98" height="11.98" fill="#ff7070"/>
<rect x="796.14" y="206.74" width="11.98" height="11.98" fill="#ffe0e0"/>
<rect x="616.44" y="218.72" width="11.98" height="11.98" fill="#ffd8d8"/>
<rect x="640.40" y="218.72" width="11.98" height="11.98" fill="#ffb4b4"/>
<rect x="760.20" y="218.72" width="11.98" height="11.98" fill="#ff8c8c"/>
<rect x="772.18" y="218.72" width="11.98" height="11.98" fill="#ff9090"/>
<rect x="640.40" y="230.70" width="11.98" height="11.98" fill="#ffc8c8"/>
<rect x="748.22" y="230.70" width="11.98" height="11.98" fill="#ff9090"/>
<rect x="772.18" y="230.70" width="11.98" height="11.98" fill="#ff1010"/>
<rect x="796.14" y="230.70" width="11.98" height="11.98" fill="#ff5050"/>
<rect x="700.30" y="242.68" width="11.98" height="11.98" fill="#ffb8b8"/>
<rect x="736.24" y="242.68" width="11.98" height="11.98" fill="#ff7078"/>
<rect x="748.22" y="242.68" width="11.98" height="11.98" fill="#ff9090"/>
<rect x="760.20" y="242.68" width="11.98" height="11.98" fill="#ff1010"/>
<rect x="784.16" y="242.68" width="11.98" height="11.98" fill="#ffc8c8"/>
<rect x="604.46" y="254.66" width="11.98" height="11.98" fill="#ffd8d8"/>
<rect x="676.34" y="254.66" width="11.98" height="11.98" fill="#ffb4b4"/>
<rect x="688.32" y="254.66" width="11.98" height="11.98" fill="#ffa0a0"/>
<rect x="712.28" y="254.66" width="11.98" height="11.98" fill="#ffe0e0"/>
<rect x="772.18" y="254.66" width="11.98" height="11.98" fill="#ffc8c8"/>
<rect x="796.14" y="254.66" width="11.98" height="11.98" fill="#ff1818"/>
<rect x="664.36" y="266.64" width="11.98" height="11.98" fill="#ffc8c8"/>
<rect x="688.32" y="266.64" width="11.98" height="11.98" fill="#ffa0a0"/>
<rect x="736.24" y="266.64" width="11.98" height="11.98" fill="#ffd0d0"/>
<rect x="760.20" y="266.64" width="11.98" height="11.98" fill="#ff4848"/>
<rect x="784.16" y="266.64" width="11.98" height="11.98" fill="#ff1010"/>
</g>
<path d="M586.49,51 v2.7 M586.49,278.62 v-2.7 M580.5,56.99 h2.7 M808.12,56.99 h-2.7 M598.47,51 v2.7 M598.47,278.62 v-2.7 M580.5,68.97 h2.7 M808.12,68.97 h-2.7 M610.45,51 v2.7 M610.45,278.62 v-2.7 M580.5,80.95 h2.7 M808.12,80.95 h-2.7 M622.43,51 v2.7 M622.43,278.62 v-2.7 M580.5,92.93 h2.7 M808.12,92.93 h-2.7 M634.41,51 v2.7 M634.41,278.62 v-2.7 M580.5,104.91 h2.7 M808.12,104.91 h-2.7 M646.39,51 v2.7 M646.39,278.62 v-2.7 M580.5,116.89 h2.7 M808.12,116.89 h-2.7 M658.37,51 v2.7 M658.37,278.62 v-2.7 M580.5,128.87 h2.7 M808.12,128.87 h-2.7 M670.35,51 v2.7 M670.35,278.62 v-2.7 M580.5,140.85 h2.7 M808.12,140.85 h-2.7 M682.33,51 v2.7 M682.33,278.62 v-2.7 M580.5,152.83 h2.7 M808.12,152.83 h-2.7 M694.31,51 v2.7 M694.31,278.62 v-2.7 M580.5,164.81 h2.7 M808.12,164.81 h-2.7 M706.29,51 v2.7 M706.29,278.62 v-2.7 M580.5,176.79 h2.7 M808.12,176.79 h-2.7 M718.27,51 v2.7 M718.27,278.62 v-2.7 M580.5,188.77 h2.7 M808.12,188.77 h-2.7 M730.25,51 v2.7 M730.25,278.62 v-2.7 M580.5,200.75 h2.7 M808.12,200.75 h-2.7 M742.23,51 v2.7 M742.23,278.62 v-2.7 M580.5,212.73 h2.7 M808.12,212.73 h-2.7 M754.21,51 v2.7 M754.21,278.62 v-2.7 M580.5,224.71 h2.7 M808.12,224.71 h-2.7 M766.19,51 v2.7 M766.19,278.62 v-2.7 M580.5,236.69 h2.7 M808.12,236.69 h-2.7 M778.17,51 v2.7 M778.17,278.62 v-2.7 M580.5,248.67 h2.7 M808.12,248.67 h-2.7 M790.15,51 v2.7 M790.15,278.62 v-2.7 M580.5,260.65 h2.7 M808.12,260.65 h-2.7 M802.13,51 v2.7 M802.13,278.62 v-2.7 M580.5,272.63 h2.7 M808.12,272.63 h-2.7 " stroke="#222" stroke-width="1" fill="none"/>
<rect x="580.5" y="51" width="227.62" height="227.62" fill="none" stroke="#222" stroke-width="1.3"/>
<line x1="580.5" y1="51" x2="808.12" y2="278.62" stroke="#000" stroke-width="1.1"/>
<line x1="676.34" y1="51" x2="676.34" y2="278.62" stroke="#000" stroke-width="1.7"/>
<line x1="580.5" y1="146.84" x2="808.12" y2="146.84" stroke="#000" stroke-width="1.7"/>
<line x1="712.28" y1="51" x2="712.28" y2="278.62" stroke="#000" stroke-width="1.7"/>
<line x1="580.5" y1="182.78" x2="808.12" y2="182.78" stroke="#000" stroke-width="1.7"/>
<text transform="translate(576.6,61.14) scale(1.035,1)" font-size="13.35" text-anchor="end">ACC</text>
<text transform="translate(590.99,282.6) rotate(-90) scale(1.035,1)" font-size="13.35" text-anchor="end">ACC</text>
<text transform="translate(576.6,73.12) scale(1.035,1)" font-size="13.35" text-anchor="end">MCC</text>
<text transform="translate(602.97,282.6) rotate(-90) scale(1.035,1)" font-size="13.35" text-anchor="end">MCC</text>
<text transform="translate(576.6,85.10) scale(1.035,1)" font-size="13.35" text-anchor="end">MFG</text>
<text transform="translate(614.95,282.6) rotate(-90) scale(1.035,1)" font-size="13.35" text-anchor="end">MFG</text>
<text transform="translate(576.6,97.08) scale(1.035,1)" font-size="13.35" text-anchor="end">Insula </text>
<text transform="translate(626.93,282.6) rotate(-90) scale(1.035,1)" font-size="13.35" text-anchor="end">Insula </text>
<text transform="translate(576.6,109.06) scale(1.035,1)" font-size="13.35" text-anchor="end">Thalamus  </text>
<text transform="translate(638.91,282.6) rotate(-90) scale(1.035,1)" font-size="13.35" text-anchor="end">Thalamus  </text>
<text transform="translate(576.6,121.04) scale(1.035,1)" font-size="13.35" text-anchor="end">IFG</text>
<text transform="translate(650.89,282.6) rotate(-90) scale(1.035,1)" font-size="13.35" text-anchor="end">IFG</text>
<text transform="translate(576.6,133.02) scale(1.035,1)" font-size="13.35" text-anchor="end">OFC</text>
<text transform="translate(662.87,282.6) rotate(-90) scale(1.035,1)" font-size="13.35" text-anchor="end">OFC</text>
<text transform="translate(576.6,145.00) scale(1.035,1)" font-size="13.35" text-anchor="end">SFG</text>
<text transform="translate(674.85,282.6) rotate(-90) scale(1.035,1)" font-size="13.35" text-anchor="end">SFG</text>
<text transform="translate(576.6,156.98) scale(1.035,1)" font-size="13.35" text-anchor="end">PCC</text>
<text transform="translate(686.83,282.6) rotate(-90) scale(1.035,1)" font-size="13.35" text-anchor="end">PCC</text>
<text transform="translate(576.6,168.96) scale(1.035,1)" font-size="13.35" text-anchor="end">SPL</text>
<text transform="translate(698.81,282.6) rotate(-90) scale(1.035,1)" font-size="13.35" text-anchor="end">SPL</text>
<text transform="translate(576.6,180.94) scale(1.035,1)" font-size="13.35" text-anchor="end">PreCuneus </text>
<text transform="translate(710.79,282.6) rotate(-90) scale(1.035,1)" font-size="13.35" text-anchor="end">PreCuneus </text>
<text transform="translate(576.6,192.92) scale(1.035,1)" font-size="13.35" text-anchor="end">PreCG</text>
<text transform="translate(722.77,282.6) rotate(-90) scale(1.035,1)" font-size="13.35" text-anchor="end">PreCG</text>
<text transform="translate(576.6,204.90) scale(1.035,1)" font-size="13.35" text-anchor="end">PostCG</text>
<text transform="translate(734.75,282.6) rotate(-90) scale(1.035,1)" font-size="13.35" text-anchor="end">PostCG</text>
<text transform="translate(576.6,216.88) scale(1.035,1)" font-size="13.35" text-anchor="end">AG/SMG</text>
<text transform="translate(746.73,282.6) rotate(-90) scale(1.035,1)" font-size="13.35" text-anchor="end">AG/SMG</text>
<text transform="translate(576.6,228.86) scale(1.035,1)" font-size="13.35" text-anchor="end">STG</text>
<text transform="translate(758.71,282.6) rotate(-90) scale(1.035,1)" font-size="13.35" text-anchor="end">STG</text>
<text transform="translate(576.6,240.84) scale(1.035,1)" font-size="13.35" text-anchor="end">MTG</text>
<text transform="translate(770.69,282.6) rotate(-90) scale(1.035,1)" font-size="13.35" text-anchor="end">MTG</text>
<text transform="translate(576.6,252.82) scale(1.035,1)" font-size="13.35" text-anchor="end">STS</text>
<text transform="translate(782.67,282.6) rotate(-90) scale(1.035,1)" font-size="13.35" text-anchor="end">STS</text>
<text transform="translate(576.6,264.80) scale(1.035,1)" font-size="13.35" text-anchor="end">FG</text>
<text transform="translate(794.65,282.6) rotate(-90) scale(1.035,1)" font-size="13.35" text-anchor="end">FG</text>
<text transform="translate(576.6,276.78) scale(1.035,1)" font-size="13.35" text-anchor="end">ITG</text>
<text transform="translate(806.63,282.6) rotate(-90) scale(1.035,1)" font-size="13.35" text-anchor="end">ITG</text>
<g shape-rendering="crispEdges">
<rect x="911.18" y="51.00" width="11.98" height="11.98" fill="#ffc0c0"/>
<rect x="923.16" y="51.00" width="11.98" height="11.98" fill="#ffa0a0"/>
<rect x="935.14" y="51.00" width="11.98" height="11.98" fill="#ffb0b0"/>
<rect x="971.08" y="51.00" width="11.98" height="11.98" fill="#ff9090"/>
<rect x="983.06" y="51.00" width="11.98" height="11.98" fill="#ffa0a0"/>
<rect x="995.04" y="51.00" width="11.98" height="11.98" fill="#ffc0c0"/>
<rect x="899.20" y="62.98" width="11.98" height="11.98" fill="#ffc0c0"/>
<rect x="935.14" y="62.98" width="11.98" height="11.98" fill="#ffb0b0"/>
<rect x="947.12" y="62.98" width="11.98" height="11.98" fill="#ffb0b0"/>
<rect x="983.06" y="62.98" width="11.98" height="11.98" fill="#ff1010"/>
<rect x="1030.98" y="62.98" width="11.98" height="11.98" fill="#ffc4c4"/>
<rect x="1042.96" y="62.98" width="11.98" height="11.98" fill="#ffdcdc"/>
<rect x="899.20" y="74.96" width="11.98" height="11.98" fill="#ffa0a0"/>
<rect x="959.10" y="74.96" width="11.98" height="11.98" fill="#ffb0b0"/>
<rect x="983.06" y="74.96" width="11.98" height="11.98" fill="#ff1010"/>
<rect x="1030.98" y="74.96" width="11.98" height="11.98" fill="#ffd0d0"/>
<rect x="1054.94" y="74.96" width="11.98" height="11.98" fill="#ffd4d4"/>
<rect x="899.20" y="86.94" width="11.98" height="11.98" fill="#ffb0b0"/>
<rect x="911.18" y="86.94" width="11.98" height="11.98" fill="#ffb0b0"/>
<rect x="947.12" y="86.94" width="11.98" height="11.98" fill="#ffc4c4"/>
<rect x="959.10" y="86.94" width="11.98" height="11.98" fill="#ff4040"/>
<rect x="971.08" y="86.94" width="11.98" height="11.98" fill="#ffd0d0"/>
<rect x="1030.98" y="86.94" width="11.98" height="11.98" fill="#ffdcdc"/>
<rect x="1066.92" y="86.94" width="11.98" height="11.98" fill="#ff8c8c"/>
<rect x="1090.88" y="86.94" width="11.98" height="11.98" fill="#ffd0d0"/>
<rect x="1102.86" y="86.94" width="11.98" height="11.98" fill="#ffdcdc"/>
<rect x="911.18" y="98.92" width="11.98" height="11.98" fill="#ffb0b0"/>
<rect x="935.14" y="98.92" width="11.98" height="11.98" fill="#ffc0c0"/>
<rect x="995.04" y="98.92" width="11.98" height="11.98" fill="#ffbcbc"/>
<rect x="1030.98" y="98.92" width="11.98" height="11.98" fill="#ffdcdc"/>
<rect x="1114.84" y="98.92" width="11.98" height="11.98" fill="#ffc4c4"/>
<rect x="923.16" y="110.90" width="11.98" height="11.98" fill="#ffb4b4"/>
<rect x="935.14" y="110.90" width="11.98" height="11.98" fill="#ff4040"/>
<rect x="971.08" y="110.90" width="11.98" height="11.98" fill="#ffb4b4"/>
<rect x="1030.98" y="110.90" width="11.98" height="11.98" fill="#ffd8d8"/>
<rect x="1078.90" y="110.90" width="11.98" height="11.98" fill="#ffcccc"/>
<rect x="1090.88" y="110.90" width="11.98" height="11.98" fill="#ffd8d8"/>
<rect x="899.20" y="122.88" width="11.98" height="11.98" fill="#ff9090"/>
<rect x="935.14" y="122.88" width="11.98" height="11.98" fill="#ffd0d0"/>
<rect x="959.10" y="122.88" width="11.98" height="11.98" fill="#ffb4b4"/>
<rect x="1114.84" y="122.88" width="11.98" height="11.98" fill="#ffcccc"/>
<rect x="899.20" y="134.86" width="11.98" height="11.98" fill="#ffa0a0"/>
<rect x="911.18" y="134.86" width="11.98" height="11.98" fill="#ff1010"/>
<rect x="923.16" y="134.86" width="11.98" height="11.98" fill="#ff1010"/>
<rect x="1007.02" y="134.86" width="11.98" height="11.98" fill="#ffe0e0"/>
<rect x="1019.00" y="134.86" width="11.98" height="11.98" fill="#ffc0c0"/>
<rect x="1030.98" y="134.86" width="11.98" height="11.98" fill="#ffcccc"/>
<rect x="1090.88" y="134.86" width="11.98" height="11.98" fill="#ffa4a4"/>
<rect x="899.20" y="146.84" width="11.98" height="11.98" fill="#ffc0c0"/>
<rect x="947.12" y="146.84" width="11.98" height="11.98" fill="#ffbcbc"/>
<rect x="1019.00" y="146.84" width="11.98" height="11.98" fill="#ff0000"/>
<rect x="1102.86" y="146.84" width="11.98" height="11.98" fill="#ffb8b8"/>
<rect x="983.06" y="158.82" width="11.98" height="11.98" fill="#ffdcdc"/>
<rect x="1019.00" y="158.82" width="11.98" height="11.98" fill="#ff0000"/>
<rect x="1042.96" y="158.82" width="11.98" height="11.98" fill="#ff5858"/>
<rect x="1054.94" y="158.82" width="11.98" height="11.98" fill="#ff9090"/>
<rect x="1102.86" y="158.82" width="11.98" height="11.98" fill="#ffc8c8"/>
<rect x="1114.84" y="158.82" width="11.98" height="11.98" fill="#ffb4b4"/>
<rect x="983.06" y="170.80" width="11.98" height="11.98" fill="#ffc0c0"/>
<rect x="995.04" y="170.80" width="11.98" height="11.98" fill="#ff0000"/>
<rect x="1007.02" y="170.80" width="11.98" height="11.98" fill="#ff0000"/>
<rect x="1054.94" y="170.80" width="11.98" height="11.98" fill="#ffdcdc"/>
<rect x="1090.88" y="170.80" width="11.98" height="11.98" fill="#ffc8c8"/>
<rect x="911.18" y="182.78" width="11.98" height="11.98" fill="#ffc4c4"/>
<rect x="923.16" y="182.78" width="11.98" height="11.98" fill="#ffd0d0"/>
<rect x="935.14" y="182.78" width="11.98" height="11.98" fill="#ffdcdc"/>
<rect x="947.12" y="182.78" width="11.98" height="11.98" fill="#ffdcdc"/>
<rect x="959.10" y="182.78" width="11.98" height="11.98" fill="#ffd8d8"/>
<rect x="983.06" y="182.78" width="11.98" height="11.98" fill="#ffc8c8"/>
<rect x="1042.96" y="182.78" width="11.98" height="11.98" fill="#ff3838"/>
<rect x="1066.92" y="182.78" width="11.98" height="11.98" fill="#ffd0d0"/>
<rect x="911.18" y="194.76" width="11.98" height="11.98" fill="#ffdcdc"/>
<rect x="1007.02" y="194.76" width="11.98" height="11.98" fill="#ff5858"/>
<rect x="1030.98" y="194.76" width="11.98" height="11.98" fill="#ff3838"/>
<rect x="1054.94" y="194.76" width="11.98" height="11.98" fill="#ffa8a8"/>
<rect x="1066.92" y="194.76" width="11.98" height="11.98" fill="#ffdcdc"/>
<rect x="923.16" y="206.74" width="11.98" height="11.98" fill="#ffd4d4"/>
<rect x="1007.02" y="206.74" width="11.98" height="11.98" fill="#ff9090"/>
<rect x="1019.00" y="206.74" width="11.98" height="11.98" fill="#ffd8d8"/>
<rect x="1042.96" y="206.74" width="11.98" height="11.98" fill="#ffa8a8"/>
<rect x="1078.90" y="206.74" width="11.98" height="11.98" fill="#ffdcdc"/>
<rect x="1090.88" y="206.74" width="11.98" height="11.98" fill="#ff5050"/>
<rect x="935.14" y="218.72" width="11.98" height="11.98" fill="#ff8c8c"/>
<rect x="1030.98" y="218.72" width="11.98" height="11.98" fill="#ffcccc"/>
<rect x="1042.96" y="218.72" width="11.98" height="11.98" fill="#ffdcdc"/>
<rect x="1078.90" y="218.72" width="11.98" height="11.98" fill="#ff8888"/>
<rect x="1090.88" y="218.72" width="11.98" height="11.98" fill="#ff7878"/>
<rect x="959.10" y="230.70" width="11.98" height="11.98" fill="#ffcccc"/>
<rect x="1054.94" y="230.70" width="11.98" height="11.98" fill="#ffdcdc"/>
<rect x="1066.92" y="230.70" width="11.98" height="11.98" fill="#ff8888"/>
<rect x="1090.88" y="230.70" width="11.98" height="11.98" fill="#ff3030"/>
<rect x="1114.84" y="230.70" width="11.98" height="11.98" fill="#ff5050"/>
<rect x="935.14" y="242.68" width="11.98" height="11.98" fill="#ffd0d0"/>
<rect x="959.10" y="242.68" width="11.98" height="11.98" fill="#ffd4d4"/>
<rect x="983.06" y="242.68" width="11.98" height="11.98" fill="#ffa4a4"/>
<rect x="1019.00" y="242.68" width="11.98" height="11.98" fill="#ffc8c8"/>
<rect x="1054.94" y="242.68" width="11.98" height="11.98" fill="#ff4040"/>
<rect x="1066.92" y="242.68" width="11.98" height="11.98" fill="#ff7878"/>
<rect x="1078.90" y="242.68" width="11.98" height="11.98" fill="#ff3030"/>
<rect x="1102.86" y="242.68" width="11.98" height="11.98" fill="#ffd0d0"/>
<rect x="935.14" y="254.66" width="11.98" height="11.98" fill="#ffdcdc"/>
<rect x="995.04" y="254.66" width="11.98" height="11.98" fill="#ffb4b4"/>
<rect x="1007.02" y="254.66" width="11.98" height="11.98" fill="#ffc4c4"/>
<rect x="1090.88" y="254.66" width="11.98" height="11.98" fill="#ffd4d4"/>
<rect x="1114.84" y="254.66" width="11.98" height="11.98" fill="#ff1818"/>
<rect x="947.12" y="266.64" width="11.98" height="11.98" fill="#ffc4c4"/>
<rect x="971.08" y="266.64" width="11.98" height="11.98" fill="#ffcccc"/>
<rect x="1007.02" y="266.64" width="11.98" height="11.98" fill="#ffb0b0"/>
<rect x="1078.90" y="266.64" width="11.98" height="11.98" fill="#ff4848"/>
<rect x="1102.86" y="266.64" width="11.98" height="11.98" fill="#ff1010"/>
</g>
<path d="M905.19,51 v2.7 M905.19,278.62 v-2.7 M899.2,56.99 h2.7 M1126.8200000000002,56.99 h-2.7 M917.17,51 v2.7 M917.17,278.62 v-2.7 M899.2,68.97 h2.7 M1126.8200000000002,68.97 h-2.7 M929.15,51 v2.7 M929.15,278.62 v-2.7 M899.2,80.95 h2.7 M1126.8200000000002,80.95 h-2.7 M941.13,51 v2.7 M941.13,278.62 v-2.7 M899.2,92.93 h2.7 M1126.8200000000002,92.93 h-2.7 M953.11,51 v2.7 M953.11,278.62 v-2.7 M899.2,104.91 h2.7 M1126.8200000000002,104.91 h-2.7 M965.09,51 v2.7 M965.09,278.62 v-2.7 M899.2,116.89 h2.7 M1126.8200000000002,116.89 h-2.7 M977.07,51 v2.7 M977.07,278.62 v-2.7 M899.2,128.87 h2.7 M1126.8200000000002,128.87 h-2.7 M989.05,51 v2.7 M989.05,278.62 v-2.7 M899.2,140.85 h2.7 M1126.8200000000002,140.85 h-2.7 M1001.03,51 v2.7 M1001.03,278.62 v-2.7 M899.2,152.83 h2.7 M1126.8200000000002,152.83 h-2.7 M1013.01,51 v2.7 M1013.01,278.62 v-2.7 M899.2,164.81 h2.7 M1126.8200000000002,164.81 h-2.7 M1024.99,51 v2.7 M1024.99,278.62 v-2.7 M899.2,176.79 h2.7 M1126.8200000000002,176.79 h-2.7 M1036.97,51 v2.7 M1036.97,278.62 v-2.7 M899.2,188.77 h2.7 M1126.8200000000002,188.77 h-2.7 M1048.95,51 v2.7 M1048.95,278.62 v-2.7 M899.2,200.75 h2.7 M1126.8200000000002,200.75 h-2.7 M1060.93,51 v2.7 M1060.93,278.62 v-2.7 M899.2,212.73 h2.7 M1126.8200000000002,212.73 h-2.7 M1072.91,51 v2.7 M1072.91,278.62 v-2.7 M899.2,224.71 h2.7 M1126.8200000000002,224.71 h-2.7 M1084.89,51 v2.7 M1084.89,278.62 v-2.7 M899.2,236.69 h2.7 M1126.8200000000002,236.69 h-2.7 M1096.87,51 v2.7 M1096.87,278.62 v-2.7 M899.2,248.67 h2.7 M1126.8200000000002,248.67 h-2.7 M1108.85,51 v2.7 M1108.85,278.62 v-2.7 M899.2,260.65 h2.7 M1126.8200000000002,260.65 h-2.7 M1120.83,51 v2.7 M1120.83,278.62 v-2.7 M899.2,272.63 h2.7 M1126.8200000000002,272.63 h-2.7 " stroke="#222" stroke-width="1" fill="none"/>
<rect x="899.2" y="51" width="227.62" height="227.62" fill="none" stroke="#222" stroke-width="1.3"/>
<line x1="899.2" y1="51" x2="1126.8200000000002" y2="278.62" stroke="#000" stroke-width="1.1"/>
<line x1="995.0400000000001" y1="51" x2="995.0400000000001" y2="278.62" stroke="#000" stroke-width="1.7"/>
<line x1="899.2" y1="146.84" x2="1126.8200000000002" y2="146.84" stroke="#000" stroke-width="1.7"/>
<line x1="1030.98" y1="51" x2="1030.98" y2="278.62" stroke="#000" stroke-width="1.7"/>
<line x1="899.2" y1="182.78" x2="1126.8200000000002" y2="182.78" stroke="#000" stroke-width="1.7"/>
<text transform="translate(895.3,61.14) scale(1.035,1)" font-size="13.35" text-anchor="end">ACC</text>
<text transform="translate(909.69,282.6) rotate(-90) scale(1.035,1)" font-size="13.35" text-anchor="end">ACC</text>
<text transform="translate(895.3,73.12) scale(1.035,1)" font-size="13.35" text-anchor="end">MCC</text>
<text transform="translate(921.67,282.6) rotate(-90) scale(1.035,1)" font-size="13.35" text-anchor="end">MCC</text>
<text transform="translate(895.3,85.10) scale(1.035,1)" font-size="13.35" text-anchor="end">MFG</text>
<text transform="translate(933.65,282.6) rotate(-90) scale(1.035,1)" font-size="13.35" text-anchor="end">MFG</text>
<text transform="translate(895.3,97.08) scale(1.035,1)" font-size="13.35" text-anchor="end">Insula </text>
<text transform="translate(945.63,282.6) rotate(-90) scale(1.035,1)" font-size="13.35" text-anchor="end">Insula </text>
<text transform="translate(895.3,109.06) scale(1.035,1)" font-size="13.35" text-anchor="end">Thalamus  </text>
<text transform="translate(957.61,282.6) rotate(-90) scale(1.035,1)" font-size="13.35" text-anchor="end">Thalamus  </text>
<text transform="translate(895.3,121.04) scale(1.035,1)" font-size="13.35" text-anchor="end">IFG</text>
<text transform="translate(969.59,282.6) rotate(-90) scale(1.035,1)" font-size="13.35" text-anchor="end">IFG</text>
<text transform="translate(895.3,133.02) scale(1.035,1)" font-size="13.35" text-anchor="end">OFC</text>
<text transform="translate(981.57,282.6) rotate(-90) scale(1.035,1)" font-size="13.35" text-anchor="end">OFC</text>
<text transform="translate(895.3,145.00) scale(1.035,1)" font-size="13.35" text-anchor="end">SFG</text>
<text transform="translate(993.55,282.6) rotate(-90) scale(1.035,1)" font-size="13.35" text-anchor="end">SFG</text>
<text transform="translate(895.3,156.98) scale(1.035,1)" font-size="13.35" text-anchor="end">PCC</text>
<text transform="translate(1005.53,282.6) rotate(-90) scale(1.035,1)" font-size="13.35" text-anchor="end">PCC</text>
<text transform="translate(895.3,168.96) scale(1.035,1)" font-size="13.35" text-anchor="end">SPL</text>
<text transform="translate(1017.51,282.6) rotate(-90) scale(1.035,1)" font-size="13.35" text-anchor="end">SPL</text>
<text transform="translate(895.3,180.94) scale(1.035,1)" font-size="13.35" text-anchor="end">PreCuneus </text>
<text transform="translate(1029.49,282.6) rotate(-90) scale(1.035,1)" font-size="13.35" text-anchor="end">PreCuneus </text>
<text transform="translate(895.3,192.92) scale(1.035,1)" font-size="13.35" text-anchor="end">PreCG</text>
<text transform="translate(1041.47,282.6) rotate(-90) scale(1.035,1)" font-size="13.35" text-anchor="end">PreCG</text>
<text transform="translate(895.3,204.90) scale(1.035,1)" font-size="13.35" text-anchor="end">PostCG</text>
<text transform="translate(1053.45,282.6) rotate(-90) scale(1.035,1)" font-size="13.35" text-anchor="end">PostCG</text>
<text transform="translate(895.3,216.88) scale(1.035,1)" font-size="13.35" text-anchor="end">AG/SMG</text>
<text transform="translate(1065.43,282.6) rotate(-90) scale(1.035,1)" font-size="13.35" text-anchor="end">AG/SMG</text>
<text transform="translate(895.3,228.86) scale(1.035,1)" font-size="13.35" text-anchor="end">STG</text>
<text transform="translate(1077.41,282.6) rotate(-90) scale(1.035,1)" font-size="13.35" text-anchor="end">STG</text>
<text transform="translate(895.3,240.84) scale(1.035,1)" font-size="13.35" text-anchor="end">MTG</text>
<text transform="translate(1089.39,282.6) rotate(-90) scale(1.035,1)" font-size="13.35" text-anchor="end">MTG</text>
<text transform="translate(895.3,252.82) scale(1.035,1)" font-size="13.35" text-anchor="end">STS</text>
<text transform="translate(1101.37,282.6) rotate(-90) scale(1.035,1)" font-size="13.35" text-anchor="end">STS</text>
<text transform="translate(895.3,264.80) scale(1.035,1)" font-size="13.35" text-anchor="end">FG</text>
<text transform="translate(1113.35,282.6) rotate(-90) scale(1.035,1)" font-size="13.35" text-anchor="end">FG</text>
<text transform="translate(895.3,276.78) scale(1.035,1)" font-size="13.35" text-anchor="end">ITG</text>
<text transform="translate(1125.33,282.6) rotate(-90) scale(1.035,1)" font-size="13.35" text-anchor="end">ITG</text>
<rect x="1135" y="50.8" width="14.5" height="227.7" fill="url(#bwr)" stroke="#333" stroke-width="0.6"/>
<line x1="1147.0" y1="50.80" x2="1149.5" y2="50.80" stroke="#333" stroke-width="0.7"/>
<text x="1154" y="55.10" font-size="12" text-anchor="start" font-weight="normal" fill="#000" >0.4</text>
<line x1="1147.0" y1="79.26" x2="1149.5" y2="79.26" stroke="#333" stroke-width="0.7"/>
<text x="1154" y="83.56" font-size="12" text-anchor="start" font-weight="normal" fill="#000" >0.3</text>
<line x1="1147.0" y1="107.72" x2="1149.5" y2="107.72" stroke="#333" stroke-width="0.7"/>
<text x="1154" y="112.02" font-size="12" text-anchor="start" font-weight="normal" fill="#000" >0.2</text>
<line x1="1147.0" y1="136.19" x2="1149.5" y2="136.19" stroke="#333" stroke-width="0.7"/>
<text x="1154" y="140.49" font-size="12" text-anchor="start" font-weight="normal" fill="#000" >0.1</text>
<line x1="1147.0" y1="164.65" x2="1149.5" y2="164.65" stroke="#333" stroke-width="0.7"/>
<text x="1154" y="168.95" font-size="12" text-anchor="start" font-weight="normal" fill="#000" >0</text>
<line x1="1147.0" y1="193.11" x2="1149.5" y2="193.11" stroke="#333" stroke-width="0.7"/>
<text x="1154" y="197.41" font-size="12" text-anchor="start" font-weight="normal" fill="#000" >-0.1</text>
<line x1="1147.0" y1="221.57" x2="1149.5" y2="221.57" stroke="#333" stroke-width="0.7"/>
<text x="1154" y="225.88" font-size="12" text-anchor="start" font-weight="normal" fill="#000" >-0.2</text>
<line x1="1147.0" y1="250.04" x2="1149.5" y2="250.04" stroke="#333" stroke-width="0.7"/>
<text x="1154" y="254.34" font-size="12" text-anchor="start" font-weight="normal" fill="#000" >-0.3</text>
<line x1="1147.0" y1="278.50" x2="1149.5" y2="278.50" stroke="#333" stroke-width="0.7"/>
<text x="1154" y="282.80" font-size="12" text-anchor="start" font-weight="normal" fill="#000" >-0.4</text>
<text transform="translate(1186.5,133.4) rotate(90)" font-size="18.6">Fisher-Z</text>
</g>
<g id="panel-c">
<text x="-0.3" y="403.4" font-size="24" text-anchor="start" font-weight="bold" fill="#000" >c</text>
<text x="224.6" y="408.5" font-size="18.78" text-anchor="middle" font-weight="normal" fill="#000" >Medial - vs - Lateral amygdala</text>
<text x="227.7" y="432" font-size="18.65" text-anchor="middle" font-weight="normal" fill="#000" >stimultion contrast</text>
<g shape-rendering="crispEdges">
<rect x="197.75" y="445.40" width="12.00" height="12.00" fill="#ffb0b0"/>
<rect x="173.75" y="457.40" width="12.00" height="12.00" fill="#ff9c9c"/>
<rect x="197.75" y="457.40" width="12.00" height="12.00" fill="#9090ff"/>
<rect x="161.75" y="469.40" width="12.00" height="12.00" fill="#9c9cff"/>
<rect x="125.75" y="505.40" width="12.00" height="12.00" fill="#9c9cff"/>
<rect x="113.75" y="517.40" width="12.00" height="12.00" fill="#ff9c9c"/>
<rect x="293.75" y="517.40" width="12.00" height="12.00" fill="#7878ff"/>
<rect x="233.75" y="529.40" width="12.00" height="12.00" fill="#ff4848"/>
<rect x="101.75" y="541.40" width="12.00" height="12.00" fill="#ffb0b0"/>
<rect x="113.75" y="541.40" width="12.00" height="12.00" fill="#9090ff"/>
<rect x="185.75" y="577.40" width="12.00" height="12.00" fill="#ff4848"/>
<rect x="281.75" y="577.40" width="12.00" height="12.00" fill="#a0a0ff"/>
<rect x="293.75" y="613.40" width="12.00" height="12.00" fill="#7070ff"/>
<rect x="233.75" y="625.40" width="12.00" height="12.00" fill="#a0a0ff"/>
<rect x="173.75" y="637.40" width="12.00" height="12.00" fill="#7070ff"/>
<rect x="269.75" y="637.40" width="12.00" height="12.00" fill="#7070ff"/>
</g>
<path d="M107.75,445.4 v2.7 M107.75,673.4 v-2.7 M101.75,451.40 h2.7 M329.75,451.40 h-2.7 M119.75,445.4 v2.7 M119.75,673.4 v-2.7 M101.75,463.40 h2.7 M329.75,463.40 h-2.7 M131.75,445.4 v2.7 M131.75,673.4 v-2.7 M101.75,475.40 h2.7 M329.75,475.40 h-2.7 M143.75,445.4 v2.7 M143.75,673.4 v-2.7 M101.75,487.40 h2.7 M329.75,487.40 h-2.7 M155.75,445.4 v2.7 M155.75,673.4 v-2.7 M101.75,499.40 h2.7 M329.75,499.40 h-2.7 M167.75,445.4 v2.7 M167.75,673.4 v-2.7 M101.75,511.40 h2.7 M329.75,511.40 h-2.7 M179.75,445.4 v2.7 M179.75,673.4 v-2.7 M101.75,523.40 h2.7 M329.75,523.40 h-2.7 M191.75,445.4 v2.7 M191.75,673.4 v-2.7 M101.75,535.40 h2.7 M329.75,535.40 h-2.7 M203.75,445.4 v2.7 M203.75,673.4 v-2.7 M101.75,547.40 h2.7 M329.75,547.40 h-2.7 M215.75,445.4 v2.7 M215.75,673.4 v-2.7 M101.75,559.40 h2.7 M329.75,559.40 h-2.7 M227.75,445.4 v2.7 M227.75,673.4 v-2.7 M101.75,571.40 h2.7 M329.75,571.40 h-2.7 M239.75,445.4 v2.7 M239.75,673.4 v-2.7 M101.75,583.40 h2.7 M329.75,583.40 h-2.7 M251.75,445.4 v2.7 M251.75,673.4 v-2.7 M101.75,595.40 h2.7 M329.75,595.40 h-2.7 M263.75,445.4 v2.7 M263.75,673.4 v-2.7 M101.75,607.40 h2.7 M329.75,607.40 h-2.7 M275.75,445.4 v2.7 M275.75,673.4 v-2.7 M101.75,619.40 h2.7 M329.75,619.40 h-2.7 M287.75,445.4 v2.7 M287.75,673.4 v-2.7 M101.75,631.40 h2.7 M329.75,631.40 h-2.7 M299.75,445.4 v2.7 M299.75,673.4 v-2.7 M101.75,643.40 h2.7 M329.75,643.40 h-2.7 M311.75,445.4 v2.7 M311.75,673.4 v-2.7 M101.75,655.40 h2.7 M329.75,655.40 h-2.7 M323.75,445.4 v2.7 M323.75,673.4 v-2.7 M101.75,667.40 h2.7 M329.75,667.40 h-2.7 " stroke="#222" stroke-width="1" fill="none"/>
<rect x="101.75" y="445.4" width="228.0" height="228.0" fill="none" stroke="#222" stroke-width="1.3"/>
<line x1="101.75" y1="445.4" x2="329.75" y2="673.4" stroke="#000" stroke-width="1.1"/>
<line x1="161.75" y1="445.4" x2="161.75" y2="673.4" stroke="#000" stroke-width="1.7"/>
<line x1="101.75" y1="505.4" x2="329.75" y2="505.4" stroke="#000" stroke-width="1.7"/>
<line x1="221.75" y1="445.4" x2="221.75" y2="673.4" stroke="#000" stroke-width="1.7"/>
<line x1="101.75" y1="565.4" x2="329.75" y2="565.4" stroke="#000" stroke-width="1.7"/>
<line x1="281.75" y1="445.4" x2="281.75" y2="673.4" stroke="#000" stroke-width="1.7"/>
<line x1="101.75" y1="625.4" x2="329.75" y2="625.4" stroke="#000" stroke-width="1.7"/>
<text transform="translate(97.6,455.55) scale(1.035,1)" font-size="13.35" text-anchor="end">ACC</text>
<text transform="translate(112.25,677.5) rotate(-90) scale(1.035,1)" font-size="13.35" text-anchor="end">ACC</text>
<text transform="translate(97.6,467.55) scale(1.035,1)" font-size="13.35" text-anchor="end">PCC</text>
<text transform="translate(124.25,677.5) rotate(-90) scale(1.035,1)" font-size="13.35" text-anchor="end">PCC</text>
<text transform="translate(97.6,479.55) scale(1.035,1)" font-size="13.35" text-anchor="end">SPL</text>
<text transform="translate(136.25,677.5) rotate(-90) scale(1.035,1)" font-size="13.35" text-anchor="end">SPL</text>
<text transform="translate(97.6,491.55) scale(1.035,1)" font-size="13.35" text-anchor="end">FG</text>
<text transform="translate(148.25,677.5) rotate(-90) scale(1.035,1)" font-size="13.35" text-anchor="end">FG</text>
<text transform="translate(97.6,503.55) scale(1.035,1)" font-size="13.35" text-anchor="end">ITG</text>
<text transform="translate(160.25,677.5) rotate(-90) scale(1.035,1)" font-size="13.35" text-anchor="end">ITG</text>
<text transform="translate(97.6,515.55) scale(1.035,1)" font-size="13.35" text-anchor="end">MCC</text>
<text transform="translate(172.25,677.5) rotate(-90) scale(1.035,1)" font-size="13.35" text-anchor="end">MCC</text>
<text transform="translate(97.6,527.55) scale(1.035,1)" font-size="13.35" text-anchor="end">Insula </text>
<text transform="translate(184.25,677.5) rotate(-90) scale(1.035,1)" font-size="13.35" text-anchor="end">Insula </text>
<text transform="translate(97.6,539.55) scale(1.035,1)" font-size="13.35" text-anchor="end">PreCG</text>
<text transform="translate(196.25,677.5) rotate(-90) scale(1.035,1)" font-size="13.35" text-anchor="end">PreCG</text>
<text transform="translate(97.6,551.55) scale(1.035,1)" font-size="13.35" text-anchor="end">MTG</text>
<text transform="translate(208.25,677.5) rotate(-90) scale(1.035,1)" font-size="13.35" text-anchor="end">MTG</text>
<text transform="translate(97.6,563.55) scale(1.035,1)" font-size="13.35" text-anchor="end">STS</text>
<text transform="translate(220.25,677.5) rotate(-90) scale(1.035,1)" font-size="13.35" text-anchor="end">STS</text>
<text transform="translate(97.6,575.55) scale(1.035,1)" font-size="13.35" text-anchor="end">MFG</text>
<text transform="translate(232.25,677.5) rotate(-90) scale(1.035,1)" font-size="13.35" text-anchor="end">MFG</text>
<text transform="translate(97.6,587.55) scale(1.035,1)" font-size="13.35" text-anchor="end">PostCG</text>
<text transform="translate(244.25,677.5) rotate(-90) scale(1.035,1)" font-size="13.35" text-anchor="end">PostCG</text>
<text transform="translate(97.6,599.55) scale(1.035,1)" font-size="13.35" text-anchor="end">AG/SMG</text>
<text transform="translate(256.25,677.5) rotate(-90) scale(1.035,1)" font-size="13.35" text-anchor="end">AG/SMG</text>
<text transform="translate(97.6,611.55) scale(1.035,1)" font-size="13.35" text-anchor="end">Thalamus  </text>
<text transform="translate(268.25,677.5) rotate(-90) scale(1.035,1)" font-size="13.35" text-anchor="end">Thalamus  </text>
<text transform="translate(97.6,623.55) scale(1.035,1)" font-size="13.35" text-anchor="end">SFG</text>
<text transform="translate(280.25,677.5) rotate(-90) scale(1.035,1)" font-size="13.35" text-anchor="end">SFG</text>
<text transform="translate(97.6,635.55) scale(1.035,1)" font-size="13.35" text-anchor="end">STG</text>
<text transform="translate(292.25,677.5) rotate(-90) scale(1.035,1)" font-size="13.35" text-anchor="end">STG</text>
<text transform="translate(97.6,647.55) scale(1.035,1)" font-size="13.35" text-anchor="end">PreCuneus </text>
<text transform="translate(304.25,677.5) rotate(-90) scale(1.035,1)" font-size="13.35" text-anchor="end">PreCuneus </text>
<text transform="translate(97.6,659.55) scale(1.035,1)" font-size="13.35" text-anchor="end">IFG</text>
<text transform="translate(316.25,677.5) rotate(-90) scale(1.035,1)" font-size="13.35" text-anchor="end">IFG</text>
<text transform="translate(97.6,671.55) scale(1.035,1)" font-size="13.35" text-anchor="end">OFC</text>
<text transform="translate(328.25,677.5) rotate(-90) scale(1.035,1)" font-size="13.35" text-anchor="end">OFC</text>
<rect x="337" y="445.4" width="15" height="228.3" fill="url(#bwr)" stroke="#333" stroke-width="0.6"/>
<line x1="349.5" y1="445.40" x2="352" y2="445.40" stroke="#333" stroke-width="0.7"/>
<text x="357" y="449.70" font-size="12" text-anchor="start" font-weight="normal" fill="#000" >0.4</text>
<line x1="349.5" y1="473.94" x2="352" y2="473.94" stroke="#333" stroke-width="0.7"/>
<text x="357" y="478.24" font-size="12" text-anchor="start" font-weight="normal" fill="#000" >0.3</text>
<line x1="349.5" y1="502.47" x2="352" y2="502.47" stroke="#333" stroke-width="0.7"/>
<text x="357" y="506.77" font-size="12" text-anchor="start" font-weight="normal" fill="#000" >0.2</text>
<line x1="349.5" y1="531.01" x2="352" y2="531.01" stroke="#333" stroke-width="0.7"/>
<text x="357" y="535.31" font-size="12" text-anchor="start" font-weight="normal" fill="#000" >0.1</text>
<line x1="349.5" y1="559.55" x2="352" y2="559.55" stroke="#333" stroke-width="0.7"/>
<text x="357" y="563.85" font-size="12" text-anchor="start" font-weight="normal" fill="#000" >0</text>
<line x1="349.5" y1="588.09" x2="352" y2="588.09" stroke="#333" stroke-width="0.7"/>
<text x="357" y="592.39" font-size="12" text-anchor="start" font-weight="normal" fill="#000" >-0.1</text>
<line x1="349.5" y1="616.62" x2="352" y2="616.62" stroke="#333" stroke-width="0.7"/>
<text x="357" y="620.92" font-size="12" text-anchor="start" font-weight="normal" fill="#000" >-0.2</text>
<line x1="349.5" y1="645.16" x2="352" y2="645.16" stroke="#333" stroke-width="0.7"/>
<text x="357" y="649.46" font-size="12" text-anchor="start" font-weight="normal" fill="#000" >-0.3</text>
<line x1="349.5" y1="673.70" x2="352" y2="673.70" stroke="#333" stroke-width="0.7"/>
<text x="357" y="678.00" font-size="12" text-anchor="start" font-weight="normal" fill="#000" >-0.4</text>
<text transform="translate(386.5,447.4) rotate(90)" font-size="18.6">Medial</text>
<text transform="translate(386.5,615.1) rotate(90)" font-size="18.6">Lateral</text>
<text transform="translate(417.5,529.5) rotate(90)" font-size="18.6">Fisher-Z</text>
<path d="M391.7,528 V591.5" stroke="#000" stroke-width="1.3" fill="none"/>
<path d="M391.7,523.5 l-3.2,8.3 h6.4 z M391.7,596 l-3.2,-8.3 h6.4 z" fill="#000"/>
<text x="366.6" y="706.9" font-size="13.85" text-anchor="start" font-weight="normal" fill="#000" >FDR&lt;0.05</text>
</g>
<g id="panel-d">
<text x="510" y="409.7" font-size="24" text-anchor="start" font-weight="bold" fill="#000" >d</text>
<g id="brains">
<defs>
<filter id="bl1" x="-10%" y="-10%" width="120%" height="120%"><feGaussianBlur stdDeviation="0.9"/></filter>
<filter id="bl3" x="-10%" y="-10%" width="120%" height="120%"><feGaussianBlur stdDeviation="3.5"/></filter>
<filter id="bl05" x="-10%" y="-10%" width="120%" height="120%"><feGaussianBlur stdDeviation="0.6"/></filter>
<filter id="relief" x="-3%" y="-3%" width="106%" height="106%" color-interpolation-filters="sRGB">
<feColorMatrix in="SourceGraphic" type="matrix" values="0 0 0 0 0  0 0 0 0 0  0 0 0 0 0  0.333 0.333 0.334 0 0" result="h"/>
<feGaussianBlur in="h" stdDeviation="1.6" result="hb"/>
<feTurbulence type="fractalNoise" baseFrequency="0.045" numOctaves="2" seed="4" result="noise"/>
<feColorMatrix in="noise" type="matrix" values="0 0 0 0 0  0 0 0 0 0  0 0 0 0 0  1.2 0 0 0 -0.1" result="nA"/>
<feComposite in="hb" in2="nA" operator="arithmetic" k1="0" k2="0.75" k3="0.45" k4="0" result="hh"/>
<feDiffuseLighting in="hh" surfaceScale="4.2" diffuseConstant="1.0" lighting-color="#d6d6d6" result="lit"><feDistantLight azimuth="232" elevation="52"/></feDiffuseLighting>
<feComposite in="lit" in2="SourceAlpha" operator="in"/>
</filter>
<filter id="reliefR" x="-3%" y="-3%" width="106%" height="106%" color-interpolation-filters="sRGB">
<feColorMatrix in="SourceGraphic" type="matrix" values="0 0 0 0 0  0 0 0 0 0  0 0 0 0 0  0.333 0.333 0.334 0 0" result="h"/>
<feGaussianBlur in="h" stdDeviation="1.6" result="hb"/>
<feTurbulence type="fractalNoise" baseFrequency="0.055" numOctaves="2" seed="9" result="noise"/>
<feColorMatrix in="noise" type="matrix" values="0 0 0 0 0  0 0 0 0 0  0 0 0 0 0  1.2 0 0 0 -0.1" result="nA"/>
<feComposite in="hb" in2="nA" operator="arithmetic" k1="0" k2="0.75" k3="0.45" k4="0" result="hh"/>
<feDiffuseLighting in="hh" surfaceScale="3.4" diffuseConstant="1.0" lighting-color="#eaeaea" result="lit"><feDistantLight azimuth="232" elevation="52"/></feDiffuseLighting>
<feComposite in="lit" in2="SourceAlpha" operator="in"/>
</filter>
<linearGradient id="shade" x1="0.3" y1="0" x2="0.7" y2="1"><stop offset="0" stop-color="#000" stop-opacity="0"/><stop offset="0.55" stop-color="#000" stop-opacity="0.12"/><stop offset="1" stop-color="#000" stop-opacity="0.5"/></linearGradient>
<radialGradient id="gT" cx="0.4" cy="0.35" r="0.7"><stop offset="0" stop-color="#c4c4c4"/><stop offset="0.6" stop-color="#999"/><stop offset="1" stop-color="#6a6a6a"/></radialGradient>
</defs>
<clipPath id="clipL"><path d="M575.1,516.3 C575.2,512.8 575.7,509.2 577.3,505.6 C578.9,502.1 582.3,498.0 584.6,495.0 C586.9,492.0 589.6,491.1 591.3,487.7 C593.0,484.3 593.4,478.4 594.6,474.4 C595.8,470.4 596.7,466.9 598.6,463.8 C600.5,460.7 603.4,457.9 605.9,455.8 C608.4,453.7 612.2,453.0 613.9,451.2 C615.6,449.4 614.3,447.8 615.9,445.2 C617.5,442.6 620.4,438.4 623.2,435.9 C626.0,433.3 629.3,431.4 632.5,429.9 C635.7,428.3 640.4,428.3 642.4,426.6 C644.4,424.9 642.5,421.9 644.4,419.9 C646.3,417.9 650.2,415.9 653.7,414.6 C657.2,413.3 661.9,412.4 665.7,412.2 C669.5,412.0 673.0,413.1 676.3,413.3 C679.6,413.5 682.5,412.9 685.6,413.3 C688.7,413.8 691.7,414.9 695.0,416.0 C698.3,417.1 701.2,418.9 705.6,419.9 C710.0,420.9 716.1,421.0 721.6,421.9 C727.1,422.8 733.6,423.6 738.9,425.3 C744.2,427.0 748.4,429.5 753.5,431.9 C758.6,434.3 764.1,436.8 769.4,439.9 C774.7,443.0 780.5,446.7 785.4,450.5 C790.3,454.3 794.7,458.3 798.7,462.5 C802.7,466.7 806.4,471.2 809.3,475.8 C812.2,480.4 814.5,486.9 816.0,490.4 C817.5,493.9 817.7,493.6 818.6,497.0 C819.5,500.4 821.1,505.8 821.3,511.0 C821.5,516.2 820.9,523.3 820.0,528.2 C819.1,533.1 817.8,536.4 816.0,540.2 C814.2,544.0 812.2,547.5 809.3,550.8 C806.4,554.1 802.7,557.4 798.7,560.1 C794.7,562.8 790.3,565.6 785.4,566.8 C780.5,568.0 774.0,567.8 769.4,567.4 C764.8,567.0 759.6,562.9 757.5,564.1 C755.4,565.3 757.9,571.7 756.8,574.8 C755.7,577.9 753.8,580.5 750.8,582.7 C747.8,584.9 742.9,586.5 738.9,588.0 C734.9,589.5 731.1,590.9 726.9,591.4 C722.7,591.9 717.6,591.9 713.6,590.7 C709.6,589.5 706.1,586.5 703.0,584.1 C699.9,581.7 697.0,578.3 695.0,576.1 C693.0,573.9 693.7,572.8 691.0,570.8 C688.3,568.8 683.2,566.1 679.0,564.1 C674.8,562.1 670.1,560.0 665.7,558.8 C661.3,557.6 656.8,557.9 652.4,556.8 C648.0,555.7 644.0,553.6 639.1,552.2 C634.2,550.8 628.1,549.5 623.2,548.2 C618.3,546.9 614.3,545.1 609.9,544.2 C605.5,543.3 600.6,542.9 596.6,542.9 C592.6,542.9 588.8,545.1 586.0,544.2 C583.2,543.3 581.6,540.4 580.0,537.5 C578.4,534.6 577.4,530.4 576.6,526.9 C575.8,523.4 575.0,519.8 575.1,516.3Z"/></clipPath>
<g filter="url(#relief)">
<path d="M575.1,516.3 C575.2,512.8 575.7,509.2 577.3,505.6 C578.9,502.1 582.3,498.0 584.6,495.0 C586.9,492.0 589.6,491.1 591.3,487.7 C593.0,484.3 593.4,478.4 594.6,474.4 C595.8,470.4 596.7,466.9 598.6,463.8 C600.5,460.7 603.4,457.9 605.9,455.8 C608.4,453.7 612.2,453.0 613.9,451.2 C615.6,449.4 614.3,447.8 615.9,445.2 C617.5,442.6 620.4,438.4 623.2,435.9 C626.0,433.3 629.3,431.4 632.5,429.9 C635.7,428.3 640.4,428.3 642.4,426.6 C644.4,424.9 642.5,421.9 644.4,419.9 C646.3,417.9 650.2,415.9 653.7,414.6 C657.2,413.3 661.9,412.4 665.7,412.2 C669.5,412.0 673.0,413.1 676.3,413.3 C679.6,413.5 682.5,412.9 685.6,413.3 C688.7,413.8 691.7,414.9 695.0,416.0 C698.3,417.1 701.2,418.9 705.6,419.9 C710.0,420.9 716.1,421.0 721.6,421.9 C727.1,422.8 733.6,423.6 738.9,425.3 C744.2,427.0 748.4,429.5 753.5,431.9 C758.6,434.3 764.1,436.8 769.4,439.9 C774.7,443.0 780.5,446.7 785.4,450.5 C790.3,454.3 794.7,458.3 798.7,462.5 C802.7,466.7 806.4,471.2 809.3,475.8 C812.2,480.4 814.5,486.9 816.0,490.4 C817.5,493.9 817.7,493.6 818.6,497.0 C819.5,500.4 821.1,505.8 821.3,511.0 C821.5,516.2 820.9,523.3 820.0,528.2 C819.1,533.1 817.8,536.4 816.0,540.2 C814.2,544.0 812.2,547.5 809.3,550.8 C806.4,554.1 802.7,557.4 798.7,560.1 C794.7,562.8 790.3,565.6 785.4,566.8 C780.5,568.0 774.0,567.8 769.4,567.4 C764.8,567.0 759.6,562.9 757.5,564.1 C755.4,565.3 757.9,571.7 756.8,574.8 C755.7,577.9 753.8,580.5 750.8,582.7 C747.8,584.9 742.9,586.5 738.9,588.0 C734.9,589.5 731.1,590.9 726.9,591.4 C722.7,591.9 717.6,591.9 713.6,590.7 C709.6,589.5 706.1,586.5 703.0,584.1 C699.9,581.7 697.0,578.3 695.0,576.1 C693.0,573.9 693.7,572.8 691.0,570.8 C688.3,568.8 683.2,566.1 679.0,564.1 C674.8,562.1 670.1,560.0 665.7,558.8 C661.3,557.6 656.8,557.9 652.4,556.8 C648.0,555.7 644.0,553.6 639.1,552.2 C634.2,550.8 628.1,549.5 623.2,548.2 C618.3,546.9 614.3,545.1 609.9,544.2 C605.5,543.3 600.6,542.9 596.6,542.9 C592.6,542.9 588.8,545.1 586.0,544.2 C583.2,543.3 581.6,540.4 580.0,537.5 C578.4,534.6 577.4,530.4 576.6,526.9 C575.8,523.4 575.0,519.8 575.1,516.3Z" fill="#fff"/>
<g clip-path="url(#clipL)">
<path d="M575.1,516.3 C575.2,512.8 575.7,509.2 577.3,505.6 C578.9,502.1 582.3,498.0 584.6,495.0 C586.9,492.0 589.6,491.1 591.3,487.7 C593.0,484.3 593.4,478.4 594.6,474.4 C595.8,470.4 596.7,466.9 598.6,463.8 C600.5,460.7 603.4,457.9 605.9,455.8 C608.4,453.7 612.2,453.0 613.9,451.2 C615.6,449.4 614.3,447.8 615.9,445.2 C617.5,442.6 620.4,438.4 623.2,435.9 C626.0,433.3 629.3,431.4 632.5,429.9 C635.7,428.3 640.4,428.3 642.4,426.6 C644.4,424.9 642.5,421.9 644.4,419.9 C646.3,417.9 650.2,415.9 653.7,414.6 C657.2,413.3 661.9,412.4 665.7,412.2 C669.5,412.0 673.0,413.1 676.3,413.3 C679.6,413.5 682.5,412.9 685.6,413.3 C688.7,413.8 691.7,414.9 695.0,416.0 C698.3,417.1 701.2,418.9 705.6,419.9 C710.0,420.9 716.1,421.0 721.6,421.9 C727.1,422.8 733.6,423.6 738.9,425.3 C744.2,427.0 748.4,429.5 753.5,431.9 C758.6,434.3 764.1,436.8 769.4,439.9 C774.7,443.0 780.5,446.7 785.4,450.5 C790.3,454.3 794.7,458.3 798.7,462.5 C802.7,466.7 806.4,471.2 809.3,475.8 C812.2,480.4 814.5,486.9 816.0,490.4 C817.5,493.9 817.7,493.6 818.6,497.0 C819.5,500.4 821.1,505.8 821.3,511.0 C821.5,516.2 820.9,523.3 820.0,528.2 C819.1,533.1 817.8,536.4 816.0,540.2 C814.2,544.0 812.2,547.5 809.3,550.8 C806.4,554.1 802.7,557.4 798.7,560.1 C794.7,562.8 790.3,565.6 785.4,566.8 C780.5,568.0 774.0,567.8 769.4,567.4 C764.8,567.0 759.6,562.9 757.5,564.1 C755.4,565.3 757.9,571.7 756.8,574.8 C755.7,577.9 753.8,580.5 750.8,582.7 C747.8,584.9 742.9,586.5 738.9,588.0 C734.9,589.5 731.1,590.9 726.9,591.4 C722.7,591.9 717.6,591.9 713.6,590.7 C709.6,589.5 706.1,586.5 703.0,584.1 C699.9,581.7 697.0,578.3 695.0,576.1 C693.0,573.9 693.7,572.8 691.0,570.8 C688.3,568.8 683.2,566.1 679.0,564.1 C674.8,562.1 670.1,560.0 665.7,558.8 C661.3,557.6 656.8,557.9 652.4,556.8 C648.0,555.7 644.0,553.6 639.1,552.2 C634.2,550.8 628.1,549.5 623.2,548.2 C618.3,546.9 614.3,545.1 609.9,544.2 C605.5,543.3 600.6,542.9 596.6,542.9 C592.6,542.9 588.8,545.1 586.0,544.2 C583.2,543.3 581.6,540.4 580.0,537.5 C578.4,534.6 577.4,530.4 576.6,526.9 C575.8,523.4 575.0,519.8 575.1,516.3Z" fill="none" stroke="#000" stroke-width="9" filter="url(#bl3)" opacity="0.7"/>
<path d="M635.1,514.3 C637.6,515.4 644.7,519.0 649.8,521.0 C654.9,523.0 659.5,525.3 665.7,526.3 C671.9,527.3 679.9,527.4 687.0,527.1 C694.1,526.8 702.1,524.8 708.3,524.4 C714.5,524.1 718.9,523.9 724.2,525.0 C729.5,526.0 735.7,528.2 740.2,530.8 C744.6,533.5 748.1,537.0 750.8,540.9 C753.5,544.8 755.2,552.0 756.1,554.2" fill="none" stroke="#000" stroke-width="3.4" stroke-linecap="round" opacity="0.65" filter="url(#bl1)"/>
<path d="M647.1,532.9 C649.8,534.7 657.3,540.5 663.1,543.6 C668.8,546.7 675.0,549.6 681.7,551.6 C688.3,553.5 695.9,554.2 702.9,555.5 C710.0,556.9 718.0,557.8 724.2,559.5 C730.4,561.3 736.2,563.5 740.2,566.2 C744.2,568.8 746.8,573.9 748.1,575.5" fill="none" stroke="#000" stroke-width="2.8" stroke-linecap="round" opacity="0.65" filter="url(#bl1)"/>
<path d="M657.7,556.9 C660.8,558.0 670.2,560.9 676.4,563.5 C682.6,566.2 688.8,569.5 695.0,572.8 C701.2,576.1 710.5,581.7 713.6,583.5" fill="none" stroke="#000" stroke-width="2.4" stroke-linecap="round" opacity="0.65" filter="url(#bl1)"/>
<path d="M675.0,416.0 C675.2,418.6 676.8,426.6 676.4,431.9 C675.9,437.2 672.6,442.1 672.4,447.9 C672.1,453.6 673.5,459.8 675.0,466.5 C676.6,473.1 679.7,481.5 681.7,487.7 C683.7,493.9 686.1,501.0 687.0,503.7" fill="none" stroke="#000" stroke-width="2.8" stroke-linecap="round" opacity="0.65" filter="url(#bl1)"/>
<path d="M657.7,414.6 C658.0,417.5 658.4,425.5 659.1,431.9 C659.7,438.3 660.6,446.1 661.7,453.2 C662.8,460.3 663.7,467.8 665.7,474.4 C667.7,481.1 672.4,490.0 673.7,493.1" fill="none" stroke="#000" stroke-width="2.6" stroke-linecap="round" opacity="0.65" filter="url(#bl1)"/>
<path d="M695.0,419.9 C695.4,423.3 696.7,433.0 697.6,439.9 C698.5,446.8 699.0,454.5 700.3,461.2 C701.6,467.8 703.4,474.0 705.6,479.8 C707.8,485.5 711.4,490.4 713.6,495.7 C715.8,501.0 718.0,509.0 718.9,511.7" fill="none" stroke="#000" stroke-width="2.8" stroke-linecap="round" opacity="0.65" filter="url(#bl1)"/>
<path d="M724.2,429.2 C724.4,432.3 724.7,441.7 725.5,447.9 C726.4,454.1 727.1,460.3 729.5,466.5 C732.0,472.7 738.4,482.0 740.2,485.1" fill="none" stroke="#000" stroke-width="2.4" stroke-linecap="round" opacity="0.65" filter="url(#bl1)"/>
<path d="M729.5,431.9 C733.1,433.2 743.7,436.3 750.8,439.9 C757.9,443.4 765.4,447.9 772.1,453.2 C778.7,458.5 785.4,465.6 790.7,471.8 C796.0,478.0 801.8,487.3 804.0,490.4" fill="none" stroke="#000" stroke-width="2.6" stroke-linecap="round" opacity="0.65" filter="url(#bl1)"/>
<path d="M734.8,487.7 C738.4,488.2 749.0,488.2 756.1,490.4 C763.2,492.6 771.2,496.6 777.4,501.0 C783.6,505.5 789.4,511.7 793.3,517.0 C797.3,522.3 800.0,530.3 801.3,532.9" fill="none" stroke="#000" stroke-width="2.6" stroke-linecap="round" opacity="0.65" filter="url(#bl1)"/>
<path d="M660.4,453.2 C657.7,453.6 649.8,454.1 644.4,455.8 C639.1,457.6 633.4,460.3 628.5,463.8 C623.6,467.4 619.2,472.7 615.2,477.1 C611.2,481.5 606.3,488.2 604.6,490.4" fill="none" stroke="#000" stroke-width="2.6" stroke-linecap="round" opacity="0.65" filter="url(#bl1)"/>
<path d="M623.2,434.6 C622.3,437.7 620.1,447.4 617.9,453.2 C615.6,458.9 612.5,463.8 609.9,469.1 C607.2,474.4 603.2,482.4 601.9,485.1" fill="none" stroke="#000" stroke-width="2.4" stroke-linecap="round" opacity="0.65" filter="url(#bl1)"/>
<path d="M586.0,493.1 C587.7,495.3 592.2,502.8 596.6,506.4 C601.0,509.9 606.8,512.6 612.5,514.3 C618.3,516.1 628.1,516.5 631.2,517.0" fill="none" stroke="#000" stroke-width="2.4" stroke-linecap="round" opacity="0.65" filter="url(#bl1)"/>
<path d="M580.6,517.0 C583.3,518.3 590.8,522.8 596.6,525.0 C602.3,527.2 609.0,529.0 615.2,530.3 C621.4,531.6 630.7,532.5 633.8,532.9" fill="none" stroke="#000" stroke-width="2.4" stroke-linecap="round" opacity="0.65" filter="url(#bl1)"/>
<path d="M599.2,538.3 C603.2,538.7 615.6,540.0 623.2,540.9 C630.7,541.8 640.9,543.1 644.4,543.6" fill="none" stroke="#000" stroke-width="2.2" stroke-linecap="round" opacity="0.65" filter="url(#bl1)"/>
<path d="M793.3,479.8 C794.7,483.3 799.5,494.4 801.3,501.0 C803.1,507.7 804.4,513.4 804.0,519.6 C803.5,525.9 799.5,535.2 798.7,538.3" fill="none" stroke="#000" stroke-width="2.4" stroke-linecap="round" opacity="0.65" filter="url(#bl1)"/>
<path d="M756.1,548.9 C759.2,549.8 768.5,553.8 774.7,554.2 C780.9,554.7 790.2,552.0 793.3,551.6" fill="none" stroke="#000" stroke-width="2.2" stroke-linecap="round" opacity="0.65" filter="url(#bl1)"/>
<path d="M772.1,479.8 C771.2,483.3 768.5,494.8 766.8,501.0 C765.0,507.2 762.3,514.3 761.4,517.0" fill="none" stroke="#000" stroke-width="2.4" stroke-linecap="round" opacity="0.65" filter="url(#bl1)"/>
<path d="M640.5,423.9 C640.7,426.6 642.5,435.0 641.8,439.9 C641.1,444.8 637.4,451.0 636.5,453.2" fill="none" stroke="#000" stroke-width="2.2" stroke-linecap="round" opacity="0.65" filter="url(#bl1)"/>
<path d="M750.8,453.2 C751.7,455.8 753.5,464.7 756.1,469.1 C758.8,473.6 765.0,478.0 766.8,479.8" fill="none" stroke="#000" stroke-width="2.2" stroke-linecap="round" opacity="0.65" filter="url(#bl1)"/>
<path d="M710.9,426.6 C711.1,429.7 711.4,439.0 712.2,445.2 C713.1,451.4 715.6,460.7 716.2,463.8" fill="none" stroke="#000" stroke-width="2.0" stroke-linecap="round" opacity="0.65" filter="url(#bl1)"/>
<path d="M740.2,434.6 C741.1,437.2 745.0,445.2 745.5,450.5 C745.9,455.8 743.3,463.8 742.8,466.5" fill="none" stroke="#000" stroke-width="2.0" stroke-linecap="round" opacity="0.65" filter="url(#bl1)"/>
<path d="M687.0,511.7 C688.3,509.9 692.3,504.6 695.0,501.0 C697.6,497.5 701.6,492.2 702.9,490.4" fill="none" stroke="#000" stroke-width="2.0" stroke-linecap="round" opacity="0.65" filter="url(#bl1)"/>
<path d="M724.2,493.1 C725.1,495.3 729.1,501.9 729.5,506.4 C730.0,510.8 727.3,517.4 726.9,519.6" fill="none" stroke="#000" stroke-width="2.0" stroke-linecap="round" opacity="0.65" filter="url(#bl1)"/>
<path d="M631.2,479.8 C632.5,482.0 638.2,488.6 639.1,493.1 C640.0,497.5 636.9,504.1 636.5,506.4" fill="none" stroke="#000" stroke-width="2.0" stroke-linecap="round" opacity="0.65" filter="url(#bl1)"/>
<path d="M649.8,469.1 C650.7,471.8 654.6,479.8 655.1,485.1 C655.5,490.4 652.9,498.4 652.4,501.0" fill="none" stroke="#000" stroke-width="2.0" stroke-linecap="round" opacity="0.65" filter="url(#bl1)"/>
<path d="M591.3,511.7 C593.5,509.9 600.1,503.7 604.6,501.0 C609.0,498.4 615.6,496.6 617.9,495.7" fill="none" stroke="#000" stroke-width="2.0" stroke-linecap="round" opacity="0.65" filter="url(#bl1)"/>
<path d="M772.1,522.3 C773.8,524.1 780.1,529.0 782.7,532.9 C785.4,536.9 787.1,544.0 788.0,546.2" fill="none" stroke="#000" stroke-width="2.0" stroke-linecap="round" opacity="0.65" filter="url(#bl1)"/>
<path d="M689.6,583.5 C692.8,583.9 701.6,586.1 708.3,586.1 C714.9,586.1 723.8,585.2 729.5,583.5 C735.3,581.7 740.6,576.8 742.8,575.5" fill="none" stroke="#000" stroke-width="2.0" stroke-linecap="round" opacity="0.65" filter="url(#bl1)"/>
<path d="M604.6,466.5 C606.3,465.6 611.7,463.4 615.2,461.2 C618.7,458.9 624.1,454.5 625.8,453.2" fill="none" stroke="#000" stroke-width="2.0" stroke-linecap="round" opacity="0.65" filter="url(#bl1)"/>
<path d="M761.4,442.5 C764.1,444.8 773.0,452.3 777.4,455.8 C781.8,459.4 786.3,462.5 788.0,463.8" fill="none" stroke="#000" stroke-width="2.0" stroke-linecap="round" opacity="0.65" filter="url(#bl1)"/>
<path d="M809.3,506.4 C809.7,509.0 812.0,517.0 812.0,522.3 C812.0,527.6 809.7,535.6 809.3,538.3" fill="none" stroke="#000" stroke-width="2.0" stroke-linecap="round" opacity="0.65" filter="url(#bl1)"/>
</g></g>
<g clip-path="url(#clipL)">
<path d="M635.1,514.3 C637.6,515.4 644.7,519.0 649.8,521.0 C654.9,523.0 659.5,525.3 665.7,526.3 C671.9,527.3 679.9,527.4 687.0,527.1 C694.1,526.8 702.1,524.8 708.3,524.4 C714.5,524.1 718.9,523.9 724.2,525.0 C729.5,526.0 735.7,528.2 740.2,530.8 C744.6,533.5 748.1,537.0 750.8,540.9 C753.5,544.8 755.2,552.0 756.1,554.2" fill="none" stroke="#2a2a2a" stroke-width="4.6" stroke-linecap="round" opacity="0.2" filter="url(#bl1)"/>
<path d="M647.1,532.9 C649.8,534.7 657.3,540.5 663.1,543.6 C668.8,546.7 675.0,549.6 681.7,551.6 C688.3,553.5 695.9,554.2 702.9,555.5 C710.0,556.9 718.0,557.8 724.2,559.5 C730.4,561.3 736.2,563.5 740.2,566.2 C744.2,568.8 746.8,573.9 748.1,575.5" fill="none" stroke="#2a2a2a" stroke-width="4.0" stroke-linecap="round" opacity="0.2" filter="url(#bl1)"/>
<path d="M657.7,556.9 C660.8,558.0 670.2,560.9 676.4,563.5 C682.6,566.2 688.8,569.5 695.0,572.8 C701.2,576.1 710.5,581.7 713.6,583.5" fill="none" stroke="#2a2a2a" stroke-width="3.5999999999999996" stroke-linecap="round" opacity="0.2" filter="url(#bl1)"/>
<path d="M675.0,416.0 C675.2,418.6 676.8,426.6 676.4,431.9 C675.9,437.2 672.6,442.1 672.4,447.9 C672.1,453.6 673.5,459.8 675.0,466.5 C676.6,473.1 679.7,481.5 681.7,487.7 C683.7,493.9 686.1,501.0 687.0,503.7" fill="none" stroke="#2a2a2a" stroke-width="4.0" stroke-linecap="round" opacity="0.2" filter="url(#bl1)"/>
<path d="M657.7,414.6 C658.0,417.5 658.4,425.5 659.1,431.9 C659.7,438.3 660.6,446.1 661.7,453.2 C662.8,460.3 663.7,467.8 665.7,474.4 C667.7,481.1 672.4,490.0 673.7,493.1" fill="none" stroke="#2a2a2a" stroke-width="3.8" stroke-linecap="round" opacity="0.2" filter="url(#bl1)"/>
<path d="M695.0,419.9 C695.4,423.3 696.7,433.0 697.6,439.9 C698.5,446.8 699.0,454.5 700.3,461.2 C701.6,467.8 703.4,474.0 705.6,479.8 C707.8,485.5 711.4,490.4 713.6,495.7 C715.8,501.0 718.0,509.0 718.9,511.7" fill="none" stroke="#2a2a2a" stroke-width="4.0" stroke-linecap="round" opacity="0.2" filter="url(#bl1)"/>
<path d="M724.2,429.2 C724.4,432.3 724.7,441.7 725.5,447.9 C726.4,454.1 727.1,460.3 729.5,466.5 C732.0,472.7 738.4,482.0 740.2,485.1" fill="none" stroke="#2a2a2a" stroke-width="3.5999999999999996" stroke-linecap="round" opacity="0.2" filter="url(#bl1)"/>
<path d="M729.5,431.9 C733.1,433.2 743.7,436.3 750.8,439.9 C757.9,443.4 765.4,447.9 772.1,453.2 C778.7,458.5 785.4,465.6 790.7,471.8 C796.0,478.0 801.8,487.3 804.0,490.4" fill="none" stroke="#2a2a2a" stroke-width="3.8" stroke-linecap="round" opacity="0.2" filter="url(#bl1)"/>
<path d="M734.8,487.7 C738.4,488.2 749.0,488.2 756.1,490.4 C763.2,492.6 771.2,496.6 777.4,501.0 C783.6,505.5 789.4,511.7 793.3,517.0 C797.3,522.3 800.0,530.3 801.3,532.9" fill="none" stroke="#2a2a2a" stroke-width="3.8" stroke-linecap="round" opacity="0.2" filter="url(#bl1)"/>
<path d="M660.4,453.2 C657.7,453.6 649.8,454.1 644.4,455.8 C639.1,457.6 633.4,460.3 628.5,463.8 C623.6,467.4 619.2,472.7 615.2,477.1 C611.2,481.5 606.3,488.2 604.6,490.4" fill="none" stroke="#2a2a2a" stroke-width="3.8" stroke-linecap="round" opacity="0.2" filter="url(#bl1)"/>
<path d="M623.2,434.6 C622.3,437.7 620.1,447.4 617.9,453.2 C615.6,458.9 612.5,463.8 609.9,469.1 C607.2,474.4 603.2,482.4 601.9,485.1" fill="none" stroke="#2a2a2a" stroke-width="3.5999999999999996" stroke-linecap="round" opacity="0.2" filter="url(#bl1)"/>
<path d="M586.0,493.1 C587.7,495.3 592.2,502.8 596.6,506.4 C601.0,509.9 606.8,512.6 612.5,514.3 C618.3,516.1 628.1,516.5 631.2,517.0" fill="none" stroke="#2a2a2a" stroke-width="3.5999999999999996" stroke-linecap="round" opacity="0.2" filter="url(#bl1)"/>
<path d="M580.6,517.0 C583.3,518.3 590.8,522.8 596.6,525.0 C602.3,527.2 609.0,529.0 615.2,530.3 C621.4,531.6 630.7,532.5 633.8,532.9" fill="none" stroke="#2a2a2a" stroke-width="3.5999999999999996" stroke-linecap="round" opacity="0.2" filter="url(#bl1)"/>
<path d="M599.2,538.3 C603.2,538.7 615.6,540.0 623.2,540.9 C630.7,541.8 640.9,543.1 644.4,543.6" fill="none" stroke="#2a2a2a" stroke-width="3.4000000000000004" stroke-linecap="round" opacity="0.2" filter="url(#bl1)"/>
<path d="M793.3,479.8 C794.7,483.3 799.5,494.4 801.3,501.0 C803.1,507.7 804.4,513.4 804.0,519.6 C803.5,525.9 799.5,535.2 798.7,538.3" fill="none" stroke="#2a2a2a" stroke-width="3.5999999999999996" stroke-linecap="round" opacity="0.2" filter="url(#bl1)"/>
<path d="M756.1,548.9 C759.2,549.8 768.5,553.8 774.7,554.2 C780.9,554.7 790.2,552.0 793.3,551.6" fill="none" stroke="#2a2a2a" stroke-width="3.4000000000000004" stroke-linecap="round" opacity="0.2" filter="url(#bl1)"/>
<path d="M772.1,479.8 C771.2,483.3 768.5,494.8 766.8,501.0 C765.0,507.2 762.3,514.3 761.4,517.0" fill="none" stroke="#2a2a2a" stroke-width="3.5999999999999996" stroke-linecap="round" opacity="0.2" filter="url(#bl1)"/>
<path d="M640.5,423.9 C640.7,426.6 642.5,435.0 641.8,439.9 C641.1,444.8 637.4,451.0 636.5,453.2" fill="none" stroke="#2a2a2a" stroke-width="3.4000000000000004" stroke-linecap="round" opacity="0.2" filter="url(#bl1)"/>
<path d="M750.8,453.2 C751.7,455.8 753.5,464.7 756.1,469.1 C758.8,473.6 765.0,478.0 766.8,479.8" fill="none" stroke="#2a2a2a" stroke-width="3.4000000000000004" stroke-linecap="round" opacity="0.2" filter="url(#bl1)"/>
<path d="M710.9,426.6 C711.1,429.7 711.4,439.0 712.2,445.2 C713.1,451.4 715.6,460.7 716.2,463.8" fill="none" stroke="#2a2a2a" stroke-width="3.2" stroke-linecap="round" opacity="0.2" filter="url(#bl1)"/>
<path d="M740.2,434.6 C741.1,437.2 745.0,445.2 745.5,450.5 C745.9,455.8 743.3,463.8 742.8,466.5" fill="none" stroke="#2a2a2a" stroke-width="3.2" stroke-linecap="round" opacity="0.2" filter="url(#bl1)"/>
<path d="M687.0,511.7 C688.3,509.9 692.3,504.6 695.0,501.0 C697.6,497.5 701.6,492.2 702.9,490.4" fill="none" stroke="#2a2a2a" stroke-width="3.2" stroke-linecap="round" opacity="0.2" filter="url(#bl1)"/>
<path d="M724.2,493.1 C725.1,495.3 729.1,501.9 729.5,506.4 C730.0,510.8 727.3,517.4 726.9,519.6" fill="none" stroke="#2a2a2a" stroke-width="3.2" stroke-linecap="round" opacity="0.2" filter="url(#bl1)"/>
<path d="M631.2,479.8 C632.5,482.0 638.2,488.6 639.1,493.1 C640.0,497.5 636.9,504.1 636.5,506.4" fill="none" stroke="#2a2a2a" stroke-width="3.2" stroke-linecap="round" opacity="0.2" filter="url(#bl1)"/>
<path d="M649.8,469.1 C650.7,471.8 654.6,479.8 655.1,485.1 C655.5,490.4 652.9,498.4 652.4,501.0" fill="none" stroke="#2a2a2a" stroke-width="3.2" stroke-linecap="round" opacity="0.2" filter="url(#bl1)"/>
<path d="M591.3,511.7 C593.5,509.9 600.1,503.7 604.6,501.0 C609.0,498.4 615.6,496.6 617.9,495.7" fill="none" stroke="#2a2a2a" stroke-width="3.2" stroke-linecap="round" opacity="0.2" filter="url(#bl1)"/>
<path d="M772.1,522.3 C773.8,524.1 780.1,529.0 782.7,532.9 C785.4,536.9 787.1,544.0 788.0,546.2" fill="none" stroke="#2a2a2a" stroke-width="3.2" stroke-linecap="round" opacity="0.2" filter="url(#bl1)"/>
<path d="M689.6,583.5 C692.8,583.9 701.6,586.1 708.3,586.1 C714.9,586.1 723.8,585.2 729.5,583.5 C735.3,581.7 740.6,576.8 742.8,575.5" fill="none" stroke="#2a2a2a" stroke-width="3.2" stroke-linecap="round" opacity="0.2" filter="url(#bl1)"/>
<path d="M604.6,466.5 C606.3,465.6 611.7,463.4 615.2,461.2 C618.7,458.9 624.1,454.5 625.8,453.2" fill="none" stroke="#2a2a2a" stroke-width="3.2" stroke-linecap="round" opacity="0.2" filter="url(#bl1)"/>
<path d="M761.4,442.5 C764.1,444.8 773.0,452.3 777.4,455.8 C781.8,459.4 786.3,462.5 788.0,463.8" fill="none" stroke="#2a2a2a" stroke-width="3.2" stroke-linecap="round" opacity="0.2" filter="url(#bl1)"/>
<path d="M809.3,506.4 C809.7,509.0 812.0,517.0 812.0,522.3 C812.0,527.6 809.7,535.6 809.3,538.3" fill="none" stroke="#2a2a2a" stroke-width="3.2" stroke-linecap="round" opacity="0.2" filter="url(#bl1)"/>
<path d="M575.1,516.3 C575.2,512.8 575.7,509.2 577.3,505.6 C578.9,502.1 582.3,498.0 584.6,495.0 C586.9,492.0 589.6,491.1 591.3,487.7 C593.0,484.3 593.4,478.4 594.6,474.4 C595.8,470.4 596.7,466.9 598.6,463.8 C600.5,460.7 603.4,457.9 605.9,455.8 C608.4,453.7 612.2,453.0 613.9,451.2 C615.6,449.4 614.3,447.8 615.9,445.2 C617.5,442.6 620.4,438.4 623.2,435.9 C626.0,433.3 629.3,431.4 632.5,429.9 C635.7,428.3 640.4,428.3 642.4,426.6 C644.4,424.9 642.5,421.9 644.4,419.9 C646.3,417.9 650.2,415.9 653.7,414.6 C657.2,413.3 661.9,412.4 665.7,412.2 C669.5,412.0 673.0,413.1 676.3,413.3 C679.6,413.5 682.5,412.9 685.6,413.3 C688.7,413.8 691.7,414.9 695.0,416.0 C698.3,417.1 701.2,418.9 705.6,419.9 C710.0,420.9 716.1,421.0 721.6,421.9 C727.1,422.8 733.6,423.6 738.9,425.3 C744.2,427.0 748.4,429.5 753.5,431.9 C758.6,434.3 764.1,436.8 769.4,439.9 C774.7,443.0 780.5,446.7 785.4,450.5 C790.3,454.3 794.7,458.3 798.7,462.5 C802.7,466.7 806.4,471.2 809.3,475.8 C812.2,480.4 814.5,486.9 816.0,490.4 C817.5,493.9 817.7,493.6 818.6,497.0 C819.5,500.4 821.1,505.8 821.3,511.0 C821.5,516.2 820.9,523.3 820.0,528.2 C819.1,533.1 817.8,536.4 816.0,540.2 C814.2,544.0 812.2,547.5 809.3,550.8 C806.4,554.1 802.7,557.4 798.7,560.1 C794.7,562.8 790.3,565.6 785.4,566.8 C780.5,568.0 774.0,567.8 769.4,567.4 C764.8,567.0 759.6,562.9 757.5,564.1 C755.4,565.3 757.9,571.7 756.8,574.8 C755.7,577.9 753.8,580.5 750.8,582.7 C747.8,584.9 742.9,586.5 738.9,588.0 C734.9,589.5 731.1,590.9 726.9,591.4 C722.7,591.9 717.6,591.9 713.6,590.7 C709.6,589.5 706.1,586.5 703.0,584.1 C699.9,581.7 697.0,578.3 695.0,576.1 C693.0,573.9 693.7,572.8 691.0,570.8 C688.3,568.8 683.2,566.1 679.0,564.1 C674.8,562.1 670.1,560.0 665.7,558.8 C661.3,557.6 656.8,557.9 652.4,556.8 C648.0,555.7 644.0,553.6 639.1,552.2 C634.2,550.8 628.1,549.5 623.2,548.2 C618.3,546.9 614.3,545.1 609.9,544.2 C605.5,543.3 600.6,542.9 596.6,542.9 C592.6,542.9 588.8,545.1 586.0,544.2 C583.2,543.3 581.6,540.4 580.0,537.5 C578.4,534.6 577.4,530.4 576.6,526.9 C575.8,523.4 575.0,519.8 575.1,516.3Z" fill="url(#shade)" opacity="0.22"/>
</g>
<path d="M575.1,516.3 C575.2,512.8 575.7,509.2 577.3,505.6 C578.9,502.1 582.3,498.0 584.6,495.0 C586.9,492.0 589.6,491.1 591.3,487.7 C593.0,484.3 593.4,478.4 594.6,474.4 C595.8,470.4 596.7,466.9 598.6,463.8 C600.5,460.7 603.4,457.9 605.9,455.8 C608.4,453.7 612.2,453.0 613.9,451.2 C615.6,449.4 614.3,447.8 615.9,445.2 C617.5,442.6 620.4,438.4 623.2,435.9 C626.0,433.3 629.3,431.4 632.5,429.9 C635.7,428.3 640.4,428.3 642.4,426.6 C644.4,424.9 642.5,421.9 644.4,419.9 C646.3,417.9 650.2,415.9 653.7,414.6 C657.2,413.3 661.9,412.4 665.7,412.2 C669.5,412.0 673.0,413.1 676.3,413.3 C679.6,413.5 682.5,412.9 685.6,413.3 C688.7,413.8 691.7,414.9 695.0,416.0 C698.3,417.1 701.2,418.9 705.6,419.9 C710.0,420.9 716.1,421.0 721.6,421.9 C727.1,422.8 733.6,423.6 738.9,425.3 C744.2,427.0 748.4,429.5 753.5,431.9 C758.6,434.3 764.1,436.8 769.4,439.9 C774.7,443.0 780.5,446.7 785.4,450.5 C790.3,454.3 794.7,458.3 798.7,462.5 C802.7,466.7 806.4,471.2 809.3,475.8 C812.2,480.4 814.5,486.9 816.0,490.4 C817.5,493.9 817.7,493.6 818.6,497.0 C819.5,500.4 821.1,505.8 821.3,511.0 C821.5,516.2 820.9,523.3 820.0,528.2 C819.1,533.1 817.8,536.4 816.0,540.2 C814.2,544.0 812.2,547.5 809.3,550.8 C806.4,554.1 802.7,557.4 798.7,560.1 C794.7,562.8 790.3,565.6 785.4,566.8 C780.5,568.0 774.0,567.8 769.4,567.4 C764.8,567.0 759.6,562.9 757.5,564.1 C755.4,565.3 757.9,571.7 756.8,574.8 C755.7,577.9 753.8,580.5 750.8,582.7 C747.8,584.9 742.9,586.5 738.9,588.0 C734.9,589.5 731.1,590.9 726.9,591.4 C722.7,591.9 717.6,591.9 713.6,590.7 C709.6,589.5 706.1,586.5 703.0,584.1 C699.9,581.7 697.0,578.3 695.0,576.1 C693.0,573.9 693.7,572.8 691.0,570.8 C688.3,568.8 683.2,566.1 679.0,564.1 C674.8,562.1 670.1,560.0 665.7,558.8 C661.3,557.6 656.8,557.9 652.4,556.8 C648.0,555.7 644.0,553.6 639.1,552.2 C634.2,550.8 628.1,549.5 623.2,548.2 C618.3,546.9 614.3,545.1 609.9,544.2 C605.5,543.3 600.6,542.9 596.6,542.9 C592.6,542.9 588.8,545.1 586.0,544.2 C583.2,543.3 581.6,540.4 580.0,537.5 C578.4,534.6 577.4,530.4 576.6,526.9 C575.8,523.4 575.0,519.8 575.1,516.3Z" fill="none" stroke="#4a4a4a" stroke-width="0.9" opacity="0.55" filter="url(#bl05)"/>
<clipPath id="clipR"><path d="M849.7,508.3 C850.0,503.8 851.6,500.9 853.0,497.0 C854.4,493.1 856.1,489.5 858.3,485.1 C860.5,480.7 863.0,475.3 866.3,470.4 C869.6,465.5 874.0,460.0 878.2,455.8 C882.4,451.6 887.1,448.3 891.5,445.2 C895.9,442.1 900.1,439.6 904.8,437.2 C909.4,434.8 914.3,432.7 919.4,430.6 C924.5,428.5 930.1,426.2 935.4,424.6 C940.7,423.1 946.4,422.2 951.3,421.3 C956.2,420.4 960.5,420.6 964.6,419.3 C968.7,418.0 971.8,414.1 975.6,413.3 C979.4,412.5 984.1,414.8 987.6,414.6 C991.1,414.4 993.4,412.0 996.9,412.0 C1000.4,412.0 1005.1,413.3 1008.9,414.6 C1012.7,415.9 1016.9,417.2 1019.5,419.9 C1022.1,422.6 1022.4,428.8 1024.8,430.6 C1027.2,432.4 1031.0,429.5 1034.1,430.6 C1037.2,431.7 1040.5,434.3 1043.4,437.2 C1046.3,440.1 1049.6,445.2 1051.4,447.9 C1053.2,450.6 1052.1,451.4 1054.1,453.2 C1056.1,455.0 1060.8,455.9 1063.4,458.5 C1066.1,461.1 1068.2,465.1 1070.0,469.1 C1071.8,473.1 1072.3,478.2 1074.0,482.4 C1075.7,486.5 1077.8,490.6 1080.0,494.0 C1082.2,497.4 1085.8,499.3 1087.3,503.0 C1088.8,506.7 1089.5,511.6 1089.3,516.3 C1089.1,520.9 1087.7,526.8 1086.0,530.9 C1084.3,535.0 1082.2,539.3 1079.3,540.9 C1076.4,542.5 1072.2,539.7 1068.7,540.2 C1065.2,540.8 1062.0,542.7 1058.0,544.2 C1054.0,545.8 1049.2,548.2 1044.8,549.5 C1040.4,550.8 1035.0,550.7 1031.5,552.2 C1028.0,553.8 1027.3,557.2 1023.5,558.8 C1019.7,560.3 1013.8,560.2 1008.9,561.5 C1004.0,562.8 998.9,564.6 994.2,566.8 C989.6,569.0 985.0,571.9 981.0,574.8 C977.0,577.7 973.6,581.2 970.0,584.0 C966.4,586.8 963.5,590.3 959.3,591.4 C955.1,592.5 949.4,591.5 944.7,590.7 C940.1,589.9 935.6,588.5 931.4,586.7 C927.2,584.9 922.3,583.0 919.4,580.1 C916.5,577.2 914.8,573.3 914.1,569.4 C913.5,565.5 917.5,558.3 915.5,556.8 C913.5,555.2 906.6,559.5 902.2,560.1 C897.8,560.7 893.3,561.0 888.9,560.1 C884.5,559.2 879.8,556.6 875.6,554.8 C871.4,553.0 866.9,552.1 863.6,549.5 C860.3,546.9 857.7,543.1 855.6,538.9 C853.5,534.7 852.0,529.3 851.0,524.2 C850.0,519.1 849.4,512.8 849.7,508.3Z"/></clipPath>
<g filter="url(#reliefR)">
<path d="M849.7,508.3 C850.0,503.8 851.6,500.9 853.0,497.0 C854.4,493.1 856.1,489.5 858.3,485.1 C860.5,480.7 863.0,475.3 866.3,470.4 C869.6,465.5 874.0,460.0 878.2,455.8 C882.4,451.6 887.1,448.3 891.5,445.2 C895.9,442.1 900.1,439.6 904.8,437.2 C909.4,434.8 914.3,432.7 919.4,430.6 C924.5,428.5 930.1,426.2 935.4,424.6 C940.7,423.1 946.4,422.2 951.3,421.3 C956.2,420.4 960.5,420.6 964.6,419.3 C968.7,418.0 971.8,414.1 975.6,413.3 C979.4,412.5 984.1,414.8 987.6,414.6 C991.1,414.4 993.4,412.0 996.9,412.0 C1000.4,412.0 1005.1,413.3 1008.9,414.6 C1012.7,415.9 1016.9,417.2 1019.5,419.9 C1022.1,422.6 1022.4,428.8 1024.8,430.6 C1027.2,432.4 1031.0,429.5 1034.1,430.6 C1037.2,431.7 1040.5,434.3 1043.4,437.2 C1046.3,440.1 1049.6,445.2 1051.4,447.9 C1053.2,450.6 1052.1,451.4 1054.1,453.2 C1056.1,455.0 1060.8,455.9 1063.4,458.5 C1066.1,461.1 1068.2,465.1 1070.0,469.1 C1071.8,473.1 1072.3,478.2 1074.0,482.4 C1075.7,486.5 1077.8,490.6 1080.0,494.0 C1082.2,497.4 1085.8,499.3 1087.3,503.0 C1088.8,506.7 1089.5,511.6 1089.3,516.3 C1089.1,520.9 1087.7,526.8 1086.0,530.9 C1084.3,535.0 1082.2,539.3 1079.3,540.9 C1076.4,542.5 1072.2,539.7 1068.7,540.2 C1065.2,540.8 1062.0,542.7 1058.0,544.2 C1054.0,545.8 1049.2,548.2 1044.8,549.5 C1040.4,550.8 1035.0,550.7 1031.5,552.2 C1028.0,553.8 1027.3,557.2 1023.5,558.8 C1019.7,560.3 1013.8,560.2 1008.9,561.5 C1004.0,562.8 998.9,564.6 994.2,566.8 C989.6,569.0 985.0,571.9 981.0,574.8 C977.0,577.7 973.6,581.2 970.0,584.0 C966.4,586.8 963.5,590.3 959.3,591.4 C955.1,592.5 949.4,591.5 944.7,590.7 C940.1,589.9 935.6,588.5 931.4,586.7 C927.2,584.9 922.3,583.0 919.4,580.1 C916.5,577.2 914.8,573.3 914.1,569.4 C913.5,565.5 917.5,558.3 915.5,556.8 C913.5,555.2 906.6,559.5 902.2,560.1 C897.8,560.7 893.3,561.0 888.9,560.1 C884.5,559.2 879.8,556.6 875.6,554.8 C871.4,553.0 866.9,552.1 863.6,549.5 C860.3,546.9 857.7,543.1 855.6,538.9 C853.5,534.7 852.0,529.3 851.0,524.2 C850.0,519.1 849.4,512.8 849.7,508.3Z" fill="#fff"/>
<g clip-path="url(#clipR)">
<path d="M849.7,508.3 C850.0,503.8 851.6,500.9 853.0,497.0 C854.4,493.1 856.1,489.5 858.3,485.1 C860.5,480.7 863.0,475.3 866.3,470.4 C869.6,465.5 874.0,460.0 878.2,455.8 C882.4,451.6 887.1,448.3 891.5,445.2 C895.9,442.1 900.1,439.6 904.8,437.2 C909.4,434.8 914.3,432.7 919.4,430.6 C924.5,428.5 930.1,426.2 935.4,424.6 C940.7,423.1 946.4,422.2 951.3,421.3 C956.2,420.4 960.5,420.6 964.6,419.3 C968.7,418.0 971.8,414.1 975.6,413.3 C979.4,412.5 984.1,414.8 987.6,414.6 C991.1,414.4 993.4,412.0 996.9,412.0 C1000.4,412.0 1005.1,413.3 1008.9,414.6 C1012.7,415.9 1016.9,417.2 1019.5,419.9 C1022.1,422.6 1022.4,428.8 1024.8,430.6 C1027.2,432.4 1031.0,429.5 1034.1,430.6 C1037.2,431.7 1040.5,434.3 1043.4,437.2 C1046.3,440.1 1049.6,445.2 1051.4,447.9 C1053.2,450.6 1052.1,451.4 1054.1,453.2 C1056.1,455.0 1060.8,455.9 1063.4,458.5 C1066.1,461.1 1068.2,465.1 1070.0,469.1 C1071.8,473.1 1072.3,478.2 1074.0,482.4 C1075.7,486.5 1077.8,490.6 1080.0,494.0 C1082.2,497.4 1085.8,499.3 1087.3,503.0 C1088.8,506.7 1089.5,511.6 1089.3,516.3 C1089.1,520.9 1087.7,526.8 1086.0,530.9 C1084.3,535.0 1082.2,539.3 1079.3,540.9 C1076.4,542.5 1072.2,539.7 1068.7,540.2 C1065.2,540.8 1062.0,542.7 1058.0,544.2 C1054.0,545.8 1049.2,548.2 1044.8,549.5 C1040.4,550.8 1035.0,550.7 1031.5,552.2 C1028.0,553.8 1027.3,557.2 1023.5,558.8 C1019.7,560.3 1013.8,560.2 1008.9,561.5 C1004.0,562.8 998.9,564.6 994.2,566.8 C989.6,569.0 985.0,571.9 981.0,574.8 C977.0,577.7 973.6,581.2 970.0,584.0 C966.4,586.8 963.5,590.3 959.3,591.4 C955.1,592.5 949.4,591.5 944.7,590.7 C940.1,589.9 935.6,588.5 931.4,586.7 C927.2,584.9 922.3,583.0 919.4,580.1 C916.5,577.2 914.8,573.3 914.1,569.4 C913.5,565.5 917.5,558.3 915.5,556.8 C913.5,555.2 906.6,559.5 902.2,560.1 C897.8,560.7 893.3,561.0 888.9,560.1 C884.5,559.2 879.8,556.6 875.6,554.8 C871.4,553.0 866.9,552.1 863.6,549.5 C860.3,546.9 857.7,543.1 855.6,538.9 C853.5,534.7 852.0,529.3 851.0,524.2 C850.0,519.1 849.4,512.8 849.7,508.3Z" fill="none" stroke="#000" stroke-width="9" filter="url(#bl3)" opacity="0.7"/>
<path d="M865.3,527.6 C865.9,524.1 866.4,513.4 869.2,506.4 C872.1,499.3 876.8,491.7 882.5,485.1 C888.3,478.4 895.8,471.8 903.8,466.5 C911.8,461.2 921.1,456.5 930.4,453.2 C939.7,449.9 949.9,447.0 959.6,446.5 C969.4,446.1 980.5,447.6 988.9,450.5 C997.3,453.4 1006.6,461.6 1010.2,463.8" fill="none" stroke="#000" stroke-width="2.6" stroke-linecap="round" opacity="0.5" filter="url(#bl1)"/>
<path d="M877.2,525.0 C879.0,521.4 882.5,510.3 887.9,503.7 C893.2,497.0 901.2,490.0 909.1,485.1 C917.1,480.2 926.4,476.7 935.7,474.4 C945.0,472.2 956.1,471.3 965.0,471.8 C973.8,472.2 982.2,474.0 988.9,477.1 C995.5,480.2 1002.2,488.2 1004.8,490.4" fill="none" stroke="#000" stroke-width="2.6" stroke-linecap="round" opacity="0.5" filter="url(#bl1)"/>
<path d="M885.2,532.9 C889.2,534.7 900.7,541.8 909.1,543.6 C917.6,545.4 927.3,545.4 935.7,543.6 C944.1,541.8 951.7,537.8 959.6,532.9 C967.6,528.1 976.9,520.5 983.6,514.3 C990.2,508.1 996.9,498.8 999.5,495.7" fill="none" stroke="#000" stroke-width="2.6" stroke-linecap="round" opacity="0.5" filter="url(#bl1)"/>
<path d="M1023.5,431.9 C1023.9,435.5 1024.8,446.1 1026.1,453.2 C1027.5,460.3 1031.4,468.2 1031.4,474.4 C1031.4,480.7 1029.7,485.1 1026.1,490.4 C1022.6,495.7 1014.6,500.6 1010.2,506.4 C1005.7,512.1 1001.3,521.9 999.5,525.0" fill="none" stroke="#000" stroke-width="2.6" stroke-linecap="round" opacity="0.5" filter="url(#bl1)"/>
<path d="M1050.1,447.9 C1050.5,451.4 1052.7,462.5 1052.7,469.1 C1052.7,475.8 1052.7,482.0 1050.1,487.7 C1047.4,493.5 1041.2,498.4 1036.8,503.7 C1032.3,509.0 1025.7,517.0 1023.5,519.6" fill="none" stroke="#000" stroke-width="2.4" stroke-linecap="round" opacity="0.5" filter="url(#bl1)"/>
<path d="M1068.7,477.1 C1068.2,480.2 1068.7,490.0 1066.0,495.7 C1063.3,501.5 1058.0,506.8 1052.7,511.7 C1047.4,516.5 1041.2,520.5 1034.1,525.0 C1027.0,529.4 1014.2,536.0 1010.2,538.3" fill="none" stroke="#000" stroke-width="2.6" stroke-linecap="round" opacity="0.5" filter="url(#bl1)"/>
<path d="M1084.6,511.7 C1082.0,513.9 1074.9,521.0 1068.7,525.0 C1062.5,529.0 1054.5,532.1 1047.4,535.6 C1040.3,539.1 1033.2,542.2 1026.1,546.2 C1019.0,550.2 1008.4,557.3 1004.8,559.5" fill="none" stroke="#000" stroke-width="2.6" stroke-linecap="round" opacity="0.5" filter="url(#bl1)"/>
<path d="M1079.3,538.3 C1075.8,539.1 1065.1,540.9 1058.0,543.6 C1050.9,546.2 1044.3,550.2 1036.8,554.2 C1029.2,558.2 1020.8,563.1 1012.8,567.5 C1004.8,571.9 992.9,578.6 988.9,580.8" fill="none" stroke="#000" stroke-width="2.4" stroke-linecap="round" opacity="0.5" filter="url(#bl1)"/>
<path d="M1002.2,413.3 C1001.7,416.0 1001.7,424.4 999.5,429.2 C997.3,434.1 990.7,440.3 988.9,442.5" fill="none" stroke="#000" stroke-width="2.2" stroke-linecap="round" opacity="0.5" filter="url(#bl1)"/>
<path d="M978.3,414.6 C977.4,417.1 975.2,425.0 972.9,429.2 C970.7,433.5 966.3,438.1 965.0,439.9" fill="none" stroke="#000" stroke-width="2.2" stroke-linecap="round" opacity="0.5" filter="url(#bl1)"/>
<path d="M919.8,564.8 C922.4,564.0 930.0,560.4 935.7,559.5 C941.5,558.6 948.1,561.3 954.3,559.5 C960.5,557.8 967.2,552.4 972.9,548.9 C978.7,545.4 986.2,540.0 988.9,538.3" fill="none" stroke="#000" stroke-width="2.6" stroke-linecap="round" opacity="0.5" filter="url(#bl1)"/>
<path d="M927.7,580.8 C930.8,580.4 939.7,579.9 946.4,578.1 C953.0,576.4 960.5,573.3 967.6,570.2 C974.7,567.1 985.4,561.3 988.9,559.5" fill="none" stroke="#000" stroke-width="2.4" stroke-linecap="round" opacity="0.5" filter="url(#bl1)"/>
<path d="M856.0,514.3 C856.6,511.2 857.7,501.5 859.9,495.7 C862.2,490.0 867.7,482.4 869.2,479.8" fill="none" stroke="#000" stroke-width="2.0" stroke-linecap="round" opacity="0.5" filter="url(#bl1)"/>
<path d="M893.2,450.5 C895.8,449.6 903.4,447.4 909.1,445.2 C914.9,443.0 924.6,438.6 927.7,437.2" fill="none" stroke="#000" stroke-width="2.0" stroke-linecap="round" opacity="0.5" filter="url(#bl1)"/>
<path d="M946.4,431.9 C948.1,433.2 952.6,438.1 957.0,439.9 C961.4,441.7 970.3,442.1 972.9,442.5" fill="none" stroke="#000" stroke-width="2.0" stroke-linecap="round" opacity="0.5" filter="url(#bl1)"/>
<path d="M1042.1,437.2 C1042.5,439.9 1042.1,447.9 1044.7,453.2 C1047.4,458.5 1055.8,466.5 1058.0,469.1" fill="none" stroke="#000" stroke-width="2.0" stroke-linecap="round" opacity="0.5" filter="url(#bl1)"/>
<path d="M1074.0,495.7 C1074.9,498.4 1079.3,506.4 1079.3,511.7 C1079.3,517.0 1074.9,525.0 1074.0,527.6" fill="none" stroke="#000" stroke-width="2.0" stroke-linecap="round" opacity="0.5" filter="url(#bl1)"/>
<path d="M1015.5,479.8 C1017.3,483.3 1021.7,495.7 1026.1,501.0 C1030.6,506.4 1039.4,509.9 1042.1,511.7" fill="none" stroke="#000" stroke-width="2.0" stroke-linecap="round" opacity="0.5" filter="url(#bl1)"/>
</g></g>
<g clip-path="url(#clipR)">
<path d="M865.3,527.6 C865.9,524.1 866.4,513.4 869.2,506.4 C872.1,499.3 876.8,491.7 882.5,485.1 C888.3,478.4 895.8,471.8 903.8,466.5 C911.8,461.2 921.1,456.5 930.4,453.2 C939.7,449.9 949.9,447.0 959.6,446.5 C969.4,446.1 980.5,447.6 988.9,450.5 C997.3,453.4 1006.6,461.6 1010.2,463.8" fill="none" stroke="#2a2a2a" stroke-width="3.8" stroke-linecap="round" opacity="0.2" filter="url(#bl1)"/>
<path d="M877.2,525.0 C879.0,521.4 882.5,510.3 887.9,503.7 C893.2,497.0 901.2,490.0 909.1,485.1 C917.1,480.2 926.4,476.7 935.7,474.4 C945.0,472.2 956.1,471.3 965.0,471.8 C973.8,472.2 982.2,474.0 988.9,477.1 C995.5,480.2 1002.2,488.2 1004.8,490.4" fill="none" stroke="#2a2a2a" stroke-width="3.8" stroke-linecap="round" opacity="0.2" filter="url(#bl1)"/>
<path d="M885.2,532.9 C889.2,534.7 900.7,541.8 909.1,543.6 C917.6,545.4 927.3,545.4 935.7,543.6 C944.1,541.8 951.7,537.8 959.6,532.9 C967.6,528.1 976.9,520.5 983.6,514.3 C990.2,508.1 996.9,498.8 999.5,495.7" fill="none" stroke="#2a2a2a" stroke-width="3.8" stroke-linecap="round" opacity="0.2" filter="url(#bl1)"/>
<path d="M1023.5,431.9 C1023.9,435.5 1024.8,446.1 1026.1,453.2 C1027.5,460.3 1031.4,468.2 1031.4,474.4 C1031.4,480.7 1029.7,485.1 1026.1,490.4 C1022.6,495.7 1014.6,500.6 1010.2,506.4 C1005.7,512.1 1001.3,521.9 999.5,525.0" fill="none" stroke="#2a2a2a" stroke-width="3.8" stroke-linecap="round" opacity="0.2" filter="url(#bl1)"/>
<path d="M1050.1,447.9 C1050.5,451.4 1052.7,462.5 1052.7,469.1 C1052.7,475.8 1052.7,482.0 1050.1,487.7 C1047.4,493.5 1041.2,498.4 1036.8,503.7 C1032.3,509.0 1025.7,517.0 1023.5,519.6" fill="none" stroke="#2a2a2a" stroke-width="3.5999999999999996" stroke-linecap="round" opacity="0.2" filter="url(#bl1)"/>
<path d="M1068.7,477.1 C1068.2,480.2 1068.7,490.0 1066.0,495.7 C1063.3,501.5 1058.0,506.8 1052.7,511.7 C1047.4,516.5 1041.2,520.5 1034.1,525.0 C1027.0,529.4 1014.2,536.0 1010.2,538.3" fill="none" stroke="#2a2a2a" stroke-width="3.8" stroke-linecap="round" opacity="0.2" filter="url(#bl1)"/>
<path d="M1084.6,511.7 C1082.0,513.9 1074.9,521.0 1068.7,525.0 C1062.5,529.0 1054.5,532.1 1047.4,535.6 C1040.3,539.1 1033.2,542.2 1026.1,546.2 C1019.0,550.2 1008.4,557.3 1004.8,559.5" fill="none" stroke="#2a2a2a" stroke-width="3.8" stroke-linecap="round" opacity="0.2" filter="url(#bl1)"/>
<path d="M1079.3,538.3 C1075.8,539.1 1065.1,540.9 1058.0,543.6 C1050.9,546.2 1044.3,550.2 1036.8,554.2 C1029.2,558.2 1020.8,563.1 1012.8,567.5 C1004.8,571.9 992.9,578.6 988.9,580.8" fill="none" stroke="#2a2a2a" stroke-width="3.5999999999999996" stroke-linecap="round" opacity="0.2" filter="url(#bl1)"/>
<path d="M1002.2,413.3 C1001.7,416.0 1001.7,424.4 999.5,429.2 C997.3,434.1 990.7,440.3 988.9,442.5" fill="none" stroke="#2a2a2a" stroke-width="3.4000000000000004" stroke-linecap="round" opacity="0.2" filter="url(#bl1)"/>
<path d="M978.3,414.6 C977.4,417.1 975.2,425.0 972.9,429.2 C970.7,433.5 966.3,438.1 965.0,439.9" fill="none" stroke="#2a2a2a" stroke-width="3.4000000000000004" stroke-linecap="round" opacity="0.2" filter="url(#bl1)"/>
<path d="M919.8,564.8 C922.4,564.0 930.0,560.4 935.7,559.5 C941.5,558.6 948.1,561.3 954.3,559.5 C960.5,557.8 967.2,552.4 972.9,548.9 C978.7,545.4 986.2,540.0 988.9,538.3" fill="none" stroke="#2a2a2a" stroke-width="3.8" stroke-linecap="round" opacity="0.2" filter="url(#bl1)"/>
<path d="M927.7,580.8 C930.8,580.4 939.7,579.9 946.4,578.1 C953.0,576.4 960.5,573.3 967.6,570.2 C974.7,567.1 985.4,561.3 988.9,559.5" fill="none" stroke="#2a2a2a" stroke-width="3.5999999999999996" stroke-linecap="round" opacity="0.2" filter="url(#bl1)"/>
<path d="M856.0,514.3 C856.6,511.2 857.7,501.5 859.9,495.7 C862.2,490.0 867.7,482.4 869.2,479.8" fill="none" stroke="#2a2a2a" stroke-width="3.2" stroke-linecap="round" opacity="0.2" filter="url(#bl1)"/>
<path d="M893.2,450.5 C895.8,449.6 903.4,447.4 909.1,445.2 C914.9,443.0 924.6,438.6 927.7,437.2" fill="none" stroke="#2a2a2a" stroke-width="3.2" stroke-linecap="round" opacity="0.2" filter="url(#bl1)"/>
<path d="M946.4,431.9 C948.1,433.2 952.6,438.1 957.0,439.9 C961.4,441.7 970.3,442.1 972.9,442.5" fill="none" stroke="#2a2a2a" stroke-width="3.2" stroke-linecap="round" opacity="0.2" filter="url(#bl1)"/>
<path d="M1042.1,437.2 C1042.5,439.9 1042.1,447.9 1044.7,453.2 C1047.4,458.5 1055.8,466.5 1058.0,469.1" fill="none" stroke="#2a2a2a" stroke-width="3.2" stroke-linecap="round" opacity="0.2" filter="url(#bl1)"/>
<path d="M1074.0,495.7 C1074.9,498.4 1079.3,506.4 1079.3,511.7 C1079.3,517.0 1074.9,525.0 1074.0,527.6" fill="none" stroke="#2a2a2a" stroke-width="3.2" stroke-linecap="round" opacity="0.2" filter="url(#bl1)"/>
<path d="M1015.5,479.8 C1017.3,483.3 1021.7,495.7 1026.1,501.0 C1030.6,506.4 1039.4,509.9 1042.1,511.7" fill="none" stroke="#2a2a2a" stroke-width="3.2" stroke-linecap="round" opacity="0.2" filter="url(#bl1)"/>
<path d="M849.7,508.3 C850.0,503.8 851.6,500.9 853.0,497.0 C854.4,493.1 856.1,489.5 858.3,485.1 C860.5,480.7 863.0,475.3 866.3,470.4 C869.6,465.5 874.0,460.0 878.2,455.8 C882.4,451.6 887.1,448.3 891.5,445.2 C895.9,442.1 900.1,439.6 904.8,437.2 C909.4,434.8 914.3,432.7 919.4,430.6 C924.5,428.5 930.1,426.2 935.4,424.6 C940.7,423.1 946.4,422.2 951.3,421.3 C956.2,420.4 960.5,420.6 964.6,419.3 C968.7,418.0 971.8,414.1 975.6,413.3 C979.4,412.5 984.1,414.8 987.6,414.6 C991.1,414.4 993.4,412.0 996.9,412.0 C1000.4,412.0 1005.1,413.3 1008.9,414.6 C1012.7,415.9 1016.9,417.2 1019.5,419.9 C1022.1,422.6 1022.4,428.8 1024.8,430.6 C1027.2,432.4 1031.0,429.5 1034.1,430.6 C1037.2,431.7 1040.5,434.3 1043.4,437.2 C1046.3,440.1 1049.6,445.2 1051.4,447.9 C1053.2,450.6 1052.1,451.4 1054.1,453.2 C1056.1,455.0 1060.8,455.9 1063.4,458.5 C1066.1,461.1 1068.2,465.1 1070.0,469.1 C1071.8,473.1 1072.3,478.2 1074.0,482.4 C1075.7,486.5 1077.8,490.6 1080.0,494.0 C1082.2,497.4 1085.8,499.3 1087.3,503.0 C1088.8,506.7 1089.5,511.6 1089.3,516.3 C1089.1,520.9 1087.7,526.8 1086.0,530.9 C1084.3,535.0 1082.2,539.3 1079.3,540.9 C1076.4,542.5 1072.2,539.7 1068.7,540.2 C1065.2,540.8 1062.0,542.7 1058.0,544.2 C1054.0,545.8 1049.2,548.2 1044.8,549.5 C1040.4,550.8 1035.0,550.7 1031.5,552.2 C1028.0,553.8 1027.3,557.2 1023.5,558.8 C1019.7,560.3 1013.8,560.2 1008.9,561.5 C1004.0,562.8 998.9,564.6 994.2,566.8 C989.6,569.0 985.0,571.9 981.0,574.8 C977.0,577.7 973.6,581.2 970.0,584.0 C966.4,586.8 963.5,590.3 959.3,591.4 C955.1,592.5 949.4,591.5 944.7,590.7 C940.1,589.9 935.6,588.5 931.4,586.7 C927.2,584.9 922.3,583.0 919.4,580.1 C916.5,577.2 914.8,573.3 914.1,569.4 C913.5,565.5 917.5,558.3 915.5,556.8 C913.5,555.2 906.6,559.5 902.2,560.1 C897.8,560.7 893.3,561.0 888.9,560.1 C884.5,559.2 879.8,556.6 875.6,554.8 C871.4,553.0 866.9,552.1 863.6,549.5 C860.3,546.9 857.7,543.1 855.6,538.9 C853.5,534.7 852.0,529.3 851.0,524.2 C850.0,519.1 849.4,512.8 849.7,508.3Z" fill="url(#shade)" opacity="0.5"/>
</g>
<path d="M849.7,508.3 C850.0,503.8 851.6,500.9 853.0,497.0 C854.4,493.1 856.1,489.5 858.3,485.1 C860.5,480.7 863.0,475.3 866.3,470.4 C869.6,465.5 874.0,460.0 878.2,455.8 C882.4,451.6 887.1,448.3 891.5,445.2 C895.9,442.1 900.1,439.6 904.8,437.2 C909.4,434.8 914.3,432.7 919.4,430.6 C924.5,428.5 930.1,426.2 935.4,424.6 C940.7,423.1 946.4,422.2 951.3,421.3 C956.2,420.4 960.5,420.6 964.6,419.3 C968.7,418.0 971.8,414.1 975.6,413.3 C979.4,412.5 984.1,414.8 987.6,414.6 C991.1,414.4 993.4,412.0 996.9,412.0 C1000.4,412.0 1005.1,413.3 1008.9,414.6 C1012.7,415.9 1016.9,417.2 1019.5,419.9 C1022.1,422.6 1022.4,428.8 1024.8,430.6 C1027.2,432.4 1031.0,429.5 1034.1,430.6 C1037.2,431.7 1040.5,434.3 1043.4,437.2 C1046.3,440.1 1049.6,445.2 1051.4,447.9 C1053.2,450.6 1052.1,451.4 1054.1,453.2 C1056.1,455.0 1060.8,455.9 1063.4,458.5 C1066.1,461.1 1068.2,465.1 1070.0,469.1 C1071.8,473.1 1072.3,478.2 1074.0,482.4 C1075.7,486.5 1077.8,490.6 1080.0,494.0 C1082.2,497.4 1085.8,499.3 1087.3,503.0 C1088.8,506.7 1089.5,511.6 1089.3,516.3 C1089.1,520.9 1087.7,526.8 1086.0,530.9 C1084.3,535.0 1082.2,539.3 1079.3,540.9 C1076.4,542.5 1072.2,539.7 1068.7,540.2 C1065.2,540.8 1062.0,542.7 1058.0,544.2 C1054.0,545.8 1049.2,548.2 1044.8,549.5 C1040.4,550.8 1035.0,550.7 1031.5,552.2 C1028.0,553.8 1027.3,557.2 1023.5,558.8 C1019.7,560.3 1013.8,560.2 1008.9,561.5 C1004.0,562.8 998.9,564.6 994.2,566.8 C989.6,569.0 985.0,571.9 981.0,574.8 C977.0,577.7 973.6,581.2 970.0,584.0 C966.4,586.8 963.5,590.3 959.3,591.4 C955.1,592.5 949.4,591.5 944.7,590.7 C940.1,589.9 935.6,588.5 931.4,586.7 C927.2,584.9 922.3,583.0 919.4,580.1 C916.5,577.2 914.8,573.3 914.1,569.4 C913.5,565.5 917.5,558.3 915.5,556.8 C913.5,555.2 906.6,559.5 902.2,560.1 C897.8,560.7 893.3,561.0 888.9,560.1 C884.5,559.2 879.8,556.6 875.6,554.8 C871.4,553.0 866.9,552.1 863.6,549.5 C860.3,546.9 857.7,543.1 855.6,538.9 C853.5,534.7 852.0,529.3 851.0,524.2 C850.0,519.1 849.4,512.8 849.7,508.3Z" fill="none" stroke="#4a4a4a" stroke-width="0.9" opacity="0.55" filter="url(#bl05)"/>
<path d="M791.7,637.0 C792.4,635.1 793.9,629.4 795.7,625.7 C797.6,622.1 800.2,618.3 802.8,615.1 C805.4,611.9 807.9,608.9 811.3,606.6 C814.6,604.3 818.9,602.6 823.0,601.3 C827.1,600.0 831.3,598.9 835.7,598.7 C840.2,598.5 845.3,598.9 849.6,600.2 C853.8,601.5 858.0,603.9 861.3,606.6 C864.6,609.3 867.3,612.6 869.4,616.2 C871.4,619.7 873.0,624.1 873.6,627.9 C874.2,631.6 874.0,635.2 873.0,638.5 C872.0,641.8 869.9,645.4 867.7,647.7 C865.4,650.0 860.9,651.6 859.6,652.3" fill="none" stroke="#7e7e7e" stroke-width="6.2" stroke-linecap="round"/>
<path d="M791.0,636.1 C791.7,634.2 793.2,628.5 795.0,624.8 C796.9,621.2 799.5,617.4 802.1,614.2 C804.7,611.0 807.2,608.0 810.6,605.7 C813.9,603.4 818.2,601.7 822.3,600.4 C826.4,599.1 830.6,598.0 835.0,597.8 C839.5,597.6 844.6,598.0 848.9,599.3 C853.1,600.6 857.3,603.0 860.6,605.7 C863.9,608.4 866.6,611.7 868.7,615.3 C870.7,618.8 872.3,623.2 872.9,627.0 C873.5,630.7 873.3,634.3 872.3,637.6 C871.3,640.9 869.2,644.5 867.0,646.8 C864.7,649.1 860.2,650.7 858.9,651.4" fill="none" stroke="#bcbcbc" stroke-width="2.4" stroke-linecap="round" filter="url(#bl05)"/>
<path d="M830.4,611.5 C832.7,611.2 840.2,609.2 844.3,609.8 C848.3,610.4 851.9,612.6 854.9,615.1 C857.9,617.6 860.5,621.1 862.3,624.7 C864.2,628.2 865.6,632.8 866.0,636.4 C866.3,640.0 864.7,644.7 864.5,646.4" fill="none" stroke="#808080" stroke-width="3.6" stroke-linecap="round"/>
<path d="M829.9,610.9 C832.2,610.6 839.7,608.6 843.8,609.2 C847.8,609.8 851.4,612.0 854.4,614.5 C857.4,617.0 860.0,620.5 861.8,624.1 C863.7,627.6 865.1,632.2 865.5,635.8 C865.8,639.4 864.2,644.1 864.0,645.8" fill="none" stroke="#b4b4b4" stroke-width="1.4" stroke-linecap="round" filter="url(#bl05)"/>
<path d="M792.1,636.4 C792.6,637.8 793.2,642.3 794.9,644.9 C796.6,647.5 799.5,649.8 802.1,651.9 C804.8,654.1 807.8,656.2 810.6,657.9 C813.5,659.6 816.3,661.1 819.1,662.1 C822.0,663.1 826.2,663.5 827.7,663.8" fill="none" stroke="#787878" stroke-width="6.6" stroke-linecap="round"/>
<path d="M791.6,635.3 C792.1,636.7 792.7,641.2 794.4,643.8 C796.1,646.4 799.0,648.7 801.6,650.8 C804.3,653.0 807.3,655.1 810.1,656.8 C813.0,658.5 815.8,660.0 818.6,661.0 C821.5,662.0 825.7,662.4 827.2,662.7" fill="none" stroke="#aaaaaa" stroke-width="2.4" stroke-linecap="round" filter="url(#bl05)"/>
<path d="M813.4,633.2 C813.5,630.9 813.2,628.0 814.5,625.7 C815.7,623.4 818.0,621.1 820.9,619.4 C823.7,617.6 827.6,615.6 831.5,615.1 C835.4,614.6 840.5,614.9 844.3,616.2 C848.0,617.4 851.2,620.1 853.8,622.6 C856.5,625.0 858.5,627.9 860.2,631.1 C861.9,634.3 863.5,638.7 863.8,641.7 C864.2,644.7 863.5,647.6 862.3,649.1 C861.2,650.7 859.0,651.5 857.0,651.3 C855.1,651.1 853.1,649.3 850.6,648.1 C848.2,646.8 844.6,644.5 842.1,643.8 C839.6,643.1 837.5,643.1 835.7,643.8 C834.0,644.5 833.3,646.8 831.5,648.1 C829.7,649.3 827.4,651.6 825.1,651.3 C822.8,650.9 819.5,647.9 817.7,646.0 C815.8,644.0 814.8,641.7 814.0,639.6 C813.3,637.4 813.3,635.5 813.4,633.2Z" fill="url(#gT)"/>
<path d="M828.5,652.8 C829.6,650.3 833.5,647.8 836.2,649.4 C838.8,650.9 843.3,658.6 844.3,661.9 C845.2,665.2 843.7,667.8 842.1,669.4 C840.6,671.0 837.2,672.4 835.1,671.5 C833.0,670.6 830.5,667.2 829.4,664.0 C828.3,660.9 827.4,655.2 828.5,652.8Z" fill="#747474"/>
<path d="M833.2,652.3 C834.0,654.3 837.7,661.1 838.3,664.0 C838.9,667.0 837.2,669.2 837.0,670.2" fill="none" stroke="#505050" stroke-width="1.1"/>
<path d="M830.2,654.5 C830.8,656.2 833.1,662.4 833.6,665.1 C834.1,667.8 833.3,669.7 833.2,670.6" fill="none" stroke="#9a9a9a" stroke-width="1.6" filter="url(#bl05)"/>
<ellipse cx="642.3" cy="445.2" rx="20.5" ry="10.6" fill="#00a030" transform="rotate(-8 642.3 445.2)"/>
<ellipse cx="692.5" cy="451.2" rx="8.3" ry="19.5" fill="#66ff00" transform="rotate(-14 692.5 451.2)"/>
<ellipse cx="711.3" cy="445.9" rx="8.4" ry="19.9" fill="#00ffa0" transform="rotate(-19 711.3 445.9)"/>
<path d="M697.0,451.9 L711.6,449.4" stroke="#ff0010" stroke-width="4.5" fill="none"/>
<ellipse cx="773.2" cy="464.3" rx="29" ry="10" fill="#0055ff" transform="rotate(38 773.2 464.3)"/>
<ellipse cx="687.2" cy="511.6" rx="26.4" ry="10.2" fill="#ffee00" transform="rotate(19 687.2 511.6)"/>
<ellipse cx="691.4" cy="542.1" rx="23" ry="10" fill="#ff9d00" transform="rotate(4 691.4 542.1)"/>
<ellipse cx="750.1" cy="527.7" rx="13.2" ry="6.2" fill="#ff0044" transform="rotate(-53 750.1 527.7)"/>
<ellipse cx="1026.0" cy="455" rx="16.75" ry="14.8" fill="#00e8ff" transform="rotate(0 1026.0 455)"/>
<ellipse cx="938" cy="473.3" rx="22.8" ry="9.0" fill="#0020a8" transform="rotate(-22 938 473.3)"/>
<ellipse cx="994.6" cy="478.1" rx="22" ry="9" fill="#0020a8" transform="rotate(14.5 994.6 478.1)"/>
<ellipse cx="893.2" cy="509.5" rx="22.3" ry="10.3" fill="#0020a8" transform="rotate(-44.5 893.2 509.5)"/>
<path d="M714.9,550.2 C717.1,550.4 723.8,550.9 728.2,551.3 C732.7,551.6 737.3,552.1 741.8,552.4 C746.3,552.7 750.9,553.0 755.4,553.2 C759.9,553.4 764.4,553.5 768.9,553.5 C773.4,553.4 777.9,553.3 782.4,553.1 C786.9,552.9 791.4,552.6 795.9,552.2 C800.3,551.8 804.8,551.3 809.3,550.8 C813.8,550.3 818.3,549.7 822.7,549.0 C827.2,548.3 831.7,547.6 836.1,546.7 C840.5,545.9 845.0,545.0 849.3,543.8 C853.7,542.7 858.0,541.5 862.2,539.9 C866.4,538.3 870.6,536.6 874.4,534.4 C878.3,532.1 883.7,527.6 885.5,526.2" fill="none" stroke="#ff0010" stroke-width="2.7" stroke-linecap="butt"/>
<path d="M763.0,515.0 C764.8,512.1 769.8,502.9 773.8,497.4 C777.8,491.9 782.3,486.7 787.1,481.9 C792.0,477.1 797.2,472.6 802.7,468.6 C808.2,464.5 814.1,460.8 820.2,457.5 C826.2,454.3 832.6,451.4 839.0,449.0 C845.5,446.6 852.2,444.6 858.9,443.2 C865.6,441.7 872.4,440.8 879.2,440.3 C886.0,439.8 892.9,439.9 899.7,440.4 C906.5,440.9 913.3,441.9 920.0,443.4 C926.7,444.8 933.3,446.7 939.9,449.0 C946.4,451.2 952.8,453.9 959.1,456.6 C965.5,459.4 971.7,462.6 977.9,465.6 C984.0,468.6 993.1,473.2 996.2,474.7" fill="none" stroke="#ff0010" stroke-width="2.7" stroke-linecap="butt"/>
<path d="M652.4,437.9 C655.8,435.5 665.9,428.0 672.9,423.6 C679.9,419.2 687.0,415.2 694.3,411.5 C701.6,407.8 709.1,404.5 716.7,401.5 C724.4,398.5 732.3,395.8 740.3,393.6 C748.3,391.4 756.5,389.6 764.7,388.3 C772.9,387.0 781.3,386.2 789.5,386.0 C797.8,385.8 806.1,386.1 814.2,387.1 C822.4,388.1 830.5,389.7 838.3,392.0 C846.1,394.3 853.8,397.3 861.2,400.9 C868.5,404.5 875.7,408.8 882.4,413.5 C889.2,418.3 895.7,423.7 901.9,429.4 C908.0,435.0 913.9,441.3 919.4,447.4 C925.0,453.4 932.7,462.7 935.4,465.8" fill="none" stroke="#0018f0" stroke-width="3.6" stroke-linecap="butt"/>
<path d="M768.8,453.8 C771.4,451.7 779.1,445.1 784.6,441.4 C790.0,437.7 795.7,434.4 801.6,431.4 C807.4,428.5 813.5,425.9 819.6,423.7 C825.8,421.4 832.2,419.5 838.6,417.9 C845.0,416.4 851.6,415.2 858.1,414.3 C864.7,413.4 871.3,412.9 877.9,412.7 C884.5,412.5 891.2,412.7 897.8,413.3 C904.3,413.8 910.9,414.7 917.4,415.9 C923.9,417.1 930.3,418.7 936.6,420.5 C942.9,422.4 949.2,424.6 955.3,426.9 C961.5,429.2 967.6,431.8 973.6,434.5 C979.7,437.1 985.7,440.0 991.7,442.6 C997.8,445.2 1007.0,448.9 1010.0,450.2" fill="none" stroke="#0018f0" stroke-width="3.6" stroke-linecap="butt"/>
<path d="M760.1,520.3 C761.8,517.0 766.6,506.9 770.5,500.6 C774.4,494.2 778.8,488.0 783.5,482.2 C788.3,476.5 793.5,471.0 799.1,466.0 C804.6,461.1 810.6,456.5 816.8,452.5 C823.0,448.5 829.6,444.9 836.3,441.9 C843.1,438.9 850.1,436.4 857.2,434.3 C864.4,432.3 871.7,430.8 879.1,429.8 C886.5,428.7 894.0,428.1 901.5,427.9 C908.9,427.7 916.4,428.0 923.9,428.6 C931.3,429.2 938.7,430.2 946.1,431.5 C953.4,432.8 960.6,434.5 967.8,436.4 C975.0,438.3 982.0,440.5 989.1,443.0 C996.1,445.5 1006.5,449.8 1010.0,451.2" fill="none" stroke="#0018f0" stroke-width="3.6" stroke-linecap="butt"/>
<path d="M713.6,550.8 C717.2,552.1 727.7,556.3 735.1,558.7 C742.5,561.1 750.3,563.3 758.0,565.0 C765.7,566.7 773.6,568.1 781.4,569.0 C789.2,569.9 797.1,570.3 804.9,570.3 C812.7,570.2 820.5,569.7 828.1,568.7 C835.8,567.8 843.4,566.3 850.9,564.5 C858.4,562.7 865.9,560.5 873.2,558.0 C880.5,555.5 887.8,552.6 895.0,549.6 C902.1,546.5 909.2,543.2 916.2,539.7 C923.2,536.2 930.2,532.5 937.0,528.7 C943.8,524.9 950.6,521.0 957.3,516.9 C963.9,512.8 970.5,508.6 976.9,504.2 C983.3,499.8 992.5,492.7 995.6,490.4" fill="none" stroke="#0018f0" stroke-width="3.6" stroke-linecap="butt"/>
<path d="M688.3,454.5 C685.9,455.4 677.7,456.9 673.7,459.8 C669.7,462.7 666.2,467.6 664.4,471.8 C662.6,476.0 662.2,480.5 663.1,485.1 C664.0,489.8 668.6,497.3 669.7,499.7" fill="none" stroke="#0018f0" stroke-width="2.8" stroke-linecap="butt"/>
<polyline points="818.6,711.6 827.2,693.0 814.7,699.1 825.7,677.0" fill="none" stroke="#1f78ff" stroke-width="3.3" stroke-linejoin="miter" stroke-miterlimit="10"/>
<polygon points="829.1,668.7 821.0,673.6 828.0,682.8" fill="#1f78ff"/>
<polyline points="854.9,709.0 845.8,690.4 858.7,696.6 848.6,674.2" fill="none" stroke="#ff0010" stroke-width="3.3" stroke-linejoin="miter" stroke-miterlimit="10"/>
<polygon points="844.1,666.1 852.3,671.2 846.5,682.6" fill="#ff0010"/>
</g>
<text x="761.3" y="693.8" font-size="13.9" text-anchor="start" font-weight="normal" fill="#000" >Lateral</text>
<text x="863" y="692.5" font-size="13.75" text-anchor="start" font-weight="normal" fill="#000" >Medial</text>
<text x="761.3" y="725.7" font-size="13.9" text-anchor="start" font-weight="normal" fill="#000" >Amygdala stimulation</text>
</g>
</svg></body></html>
